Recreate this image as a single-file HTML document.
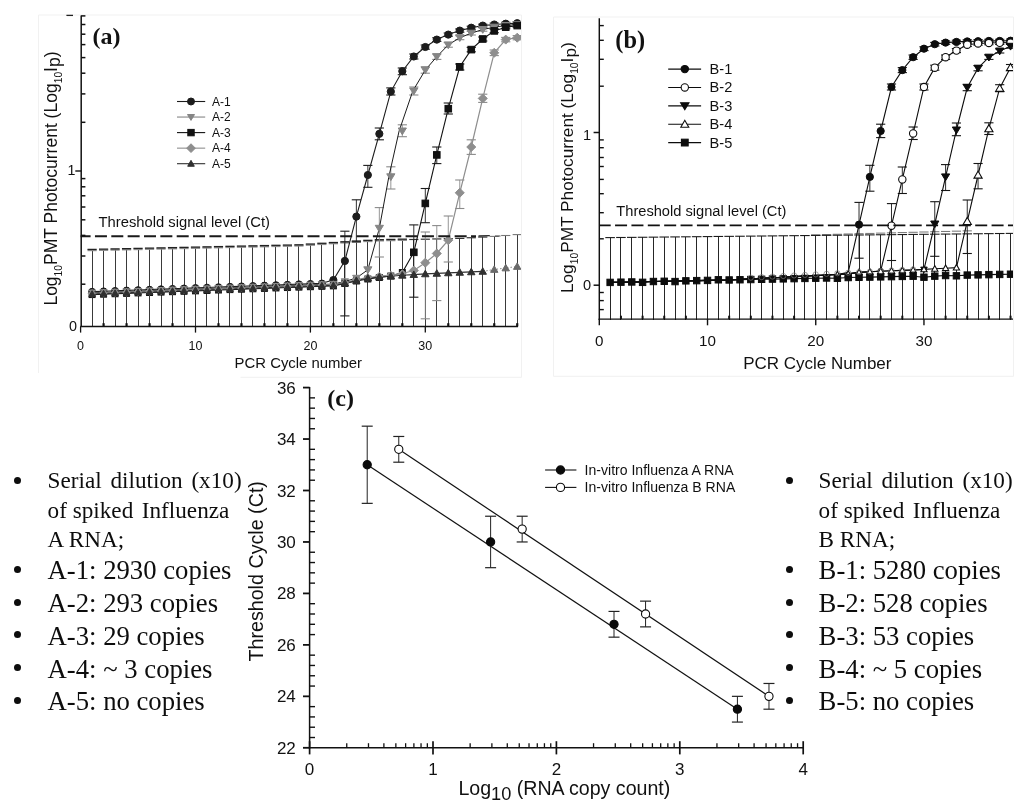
<!DOCTYPE html>
<html lang="en">
<head>
<meta charset="utf-8">
<title>Influenza A/B RNA serial dilution PCR curves</title>
<style>
html,body{margin:0;padding:0;background:#fff;}
body{width:1024px;height:808px;position:relative;overflow:hidden;}
svg{position:absolute;left:0;top:0;display:block;}
.col{position:absolute;top:0;width:0;height:0;font-family:"Liberation Serif","Times New Roman",serif;color:#0d0d0d;}
.col div{position:absolute;white-space:nowrap;}
.s{left:30.4px;font-size:23.2px;line-height:36px;height:36px;}
.l{left:30.4px;font-size:26.7px;line-height:40px;height:40px;}
.b{left:-3.5px;width:7px;height:7px;border-radius:50%;background:#0d0d0d;}
</style>
</head>
<body>
<svg width="1024" height="808" viewBox="0 0 1024 808">
<rect x="0" y="0" width="1024" height="808" fill="#ffffff"/>
<path d="M38.5 373 V15 H521.5 V377.3 H240.5" fill="none" stroke="#f1f1f1" stroke-width="1"/>
<path d="M553.5 376.3 V17 H1013.5 V376.3 Z" fill="none" stroke="#f1f1f1" stroke-width="1"/>
<g id="panelA">
<clipPath id="clipA"><rect x="80" y="14" width="441" height="313"/></clipPath>
<g clip-path="url(#clipA)">
<line x1="92.09" y1="250" x2="92.09" y2="328.4" stroke="#3a3a3a" stroke-width="1" shape-rendering="crispEdges"/>
<line x1="103.58" y1="249.74" x2="103.58" y2="328.4" stroke="#3a3a3a" stroke-width="1" shape-rendering="crispEdges"/>
<line x1="115.07" y1="249.49" x2="115.07" y2="328.4" stroke="#3a3a3a" stroke-width="1" shape-rendering="crispEdges"/>
<line x1="126.56" y1="249.23" x2="126.56" y2="328.4" stroke="#3a3a3a" stroke-width="1" shape-rendering="crispEdges"/>
<line x1="138.05" y1="248.98" x2="138.05" y2="328.4" stroke="#3a3a3a" stroke-width="1" shape-rendering="crispEdges"/>
<line x1="149.54" y1="248.72" x2="149.54" y2="328.4" stroke="#3a3a3a" stroke-width="1" shape-rendering="crispEdges"/>
<line x1="161.03" y1="248.47" x2="161.03" y2="328.4" stroke="#3a3a3a" stroke-width="1" shape-rendering="crispEdges"/>
<line x1="172.52" y1="248.21" x2="172.52" y2="328.4" stroke="#3a3a3a" stroke-width="1" shape-rendering="crispEdges"/>
<line x1="184.01" y1="247.96" x2="184.01" y2="328.4" stroke="#3a3a3a" stroke-width="1" shape-rendering="crispEdges"/>
<line x1="195.5" y1="247.7" x2="195.5" y2="328.4" stroke="#3a3a3a" stroke-width="1" shape-rendering="crispEdges"/>
<line x1="206.99" y1="247.44" x2="206.99" y2="328.4" stroke="#3a3a3a" stroke-width="1" shape-rendering="crispEdges"/>
<line x1="218.48" y1="247.19" x2="218.48" y2="328.4" stroke="#3a3a3a" stroke-width="1" shape-rendering="crispEdges"/>
<line x1="229.97" y1="246.93" x2="229.97" y2="328.4" stroke="#3a3a3a" stroke-width="1" shape-rendering="crispEdges"/>
<line x1="241.46" y1="246.68" x2="241.46" y2="328.4" stroke="#3a3a3a" stroke-width="1" shape-rendering="crispEdges"/>
<line x1="252.95" y1="246.42" x2="252.95" y2="328.4" stroke="#3a3a3a" stroke-width="1" shape-rendering="crispEdges"/>
<line x1="264.44" y1="246.17" x2="264.44" y2="328.4" stroke="#3a3a3a" stroke-width="1" shape-rendering="crispEdges"/>
<line x1="275.93" y1="245.91" x2="275.93" y2="328.4" stroke="#3a3a3a" stroke-width="1" shape-rendering="crispEdges"/>
<line x1="287.42" y1="245.66" x2="287.42" y2="328.4" stroke="#3a3a3a" stroke-width="1" shape-rendering="crispEdges"/>
<line x1="298.91" y1="245.4" x2="298.91" y2="328.4" stroke="#3a3a3a" stroke-width="1" shape-rendering="crispEdges"/>
<line x1="310.4" y1="244.64" x2="310.4" y2="328.4" stroke="#3a3a3a" stroke-width="1" shape-rendering="crispEdges"/>
<line x1="321.89" y1="243.88" x2="321.89" y2="328.4" stroke="#3a3a3a" stroke-width="1" shape-rendering="crispEdges"/>
<line x1="333.38" y1="243.12" x2="333.38" y2="328.4" stroke="#3a3a3a" stroke-width="1" shape-rendering="crispEdges"/>
<line x1="344.87" y1="242.36" x2="344.87" y2="328.4" stroke="#3a3a3a" stroke-width="1" shape-rendering="crispEdges"/>
<line x1="356.36" y1="241.6" x2="356.36" y2="328.4" stroke="#3a3a3a" stroke-width="1" shape-rendering="crispEdges"/>
<line x1="367.85" y1="240.95" x2="367.85" y2="328.4" stroke="#3a3a3a" stroke-width="1" shape-rendering="crispEdges"/>
<line x1="379.34" y1="240.3" x2="379.34" y2="328.4" stroke="#3a3a3a" stroke-width="1" shape-rendering="crispEdges"/>
<line x1="390.83" y1="240.03" x2="390.83" y2="328.4" stroke="#3a3a3a" stroke-width="1" shape-rendering="crispEdges"/>
<line x1="402.32" y1="239.76" x2="402.32" y2="328.4" stroke="#3a3a3a" stroke-width="1" shape-rendering="crispEdges"/>
<line x1="413.81" y1="239.49" x2="413.81" y2="328.4" stroke="#3a3a3a" stroke-width="1" shape-rendering="crispEdges"/>
<line x1="425.3" y1="239.21" x2="425.3" y2="328.4" stroke="#3a3a3a" stroke-width="1" shape-rendering="crispEdges"/>
<line x1="436.79" y1="238.94" x2="436.79" y2="328.4" stroke="#3a3a3a" stroke-width="1" shape-rendering="crispEdges"/>
<line x1="448.28" y1="238.67" x2="448.28" y2="328.4" stroke="#3a3a3a" stroke-width="1" shape-rendering="crispEdges"/>
<line x1="459.77" y1="238.4" x2="459.77" y2="328.4" stroke="#3a3a3a" stroke-width="1" shape-rendering="crispEdges"/>
<line x1="471.26" y1="237.73" x2="471.26" y2="328.4" stroke="#3a3a3a" stroke-width="1" shape-rendering="crispEdges"/>
<line x1="482.75" y1="237.07" x2="482.75" y2="328.4" stroke="#3a3a3a" stroke-width="1" shape-rendering="crispEdges"/>
<line x1="494.24" y1="236.4" x2="494.24" y2="328.4" stroke="#3a3a3a" stroke-width="1" shape-rendering="crispEdges"/>
<line x1="505.73" y1="235.5" x2="505.73" y2="328.4" stroke="#3a3a3a" stroke-width="1" shape-rendering="crispEdges"/>
<line x1="517.22" y1="234.6" x2="517.22" y2="328.4" stroke="#3a3a3a" stroke-width="1" shape-rendering="crispEdges"/>
<line x1="87.49" y1="250.4" x2="96.69" y2="250.4" stroke="#8a8a8a" stroke-width="1.6" />
<line x1="87.49" y1="249.4" x2="96.69" y2="249.4" stroke="#222" stroke-width="1.3" />
<line x1="98.98" y1="250.14" x2="108.18" y2="250.14" stroke="#8a8a8a" stroke-width="1.6" />
<line x1="98.98" y1="249.14" x2="108.18" y2="249.14" stroke="#222" stroke-width="1.3" />
<line x1="110.47" y1="249.89" x2="119.67" y2="249.89" stroke="#8a8a8a" stroke-width="1.6" />
<line x1="110.47" y1="248.89" x2="119.67" y2="248.89" stroke="#222" stroke-width="1.3" />
<line x1="121.96" y1="249.63" x2="131.16" y2="249.63" stroke="#8a8a8a" stroke-width="1.6" />
<line x1="121.96" y1="248.63" x2="131.16" y2="248.63" stroke="#222" stroke-width="1.3" />
<line x1="133.45" y1="249.38" x2="142.65" y2="249.38" stroke="#8a8a8a" stroke-width="1.6" />
<line x1="133.45" y1="248.38" x2="142.65" y2="248.38" stroke="#222" stroke-width="1.3" />
<line x1="144.94" y1="249.12" x2="154.14" y2="249.12" stroke="#8a8a8a" stroke-width="1.6" />
<line x1="144.94" y1="248.12" x2="154.14" y2="248.12" stroke="#222" stroke-width="1.3" />
<line x1="156.43" y1="248.87" x2="165.63" y2="248.87" stroke="#8a8a8a" stroke-width="1.6" />
<line x1="156.43" y1="247.87" x2="165.63" y2="247.87" stroke="#222" stroke-width="1.3" />
<line x1="167.92" y1="248.61" x2="177.12" y2="248.61" stroke="#8a8a8a" stroke-width="1.6" />
<line x1="167.92" y1="247.61" x2="177.12" y2="247.61" stroke="#222" stroke-width="1.3" />
<line x1="179.41" y1="248.36" x2="188.61" y2="248.36" stroke="#8a8a8a" stroke-width="1.6" />
<line x1="179.41" y1="247.36" x2="188.61" y2="247.36" stroke="#222" stroke-width="1.3" />
<line x1="190.9" y1="248.1" x2="200.1" y2="248.1" stroke="#8a8a8a" stroke-width="1.6" />
<line x1="190.9" y1="247.1" x2="200.1" y2="247.1" stroke="#222" stroke-width="1.3" />
<line x1="202.39" y1="247.84" x2="211.59" y2="247.84" stroke="#8a8a8a" stroke-width="1.6" />
<line x1="202.39" y1="246.84" x2="211.59" y2="246.84" stroke="#222" stroke-width="1.3" />
<line x1="213.88" y1="247.59" x2="223.08" y2="247.59" stroke="#8a8a8a" stroke-width="1.6" />
<line x1="213.88" y1="246.59" x2="223.08" y2="246.59" stroke="#222" stroke-width="1.3" />
<line x1="225.37" y1="247.33" x2="234.57" y2="247.33" stroke="#8a8a8a" stroke-width="1.6" />
<line x1="225.37" y1="246.33" x2="234.57" y2="246.33" stroke="#222" stroke-width="1.3" />
<line x1="236.86" y1="247.08" x2="246.06" y2="247.08" stroke="#8a8a8a" stroke-width="1.6" />
<line x1="236.86" y1="246.08" x2="246.06" y2="246.08" stroke="#222" stroke-width="1.3" />
<line x1="248.35" y1="246.82" x2="257.55" y2="246.82" stroke="#8a8a8a" stroke-width="1.6" />
<line x1="248.35" y1="245.82" x2="257.55" y2="245.82" stroke="#222" stroke-width="1.3" />
<line x1="259.84" y1="246.57" x2="269.04" y2="246.57" stroke="#8a8a8a" stroke-width="1.6" />
<line x1="259.84" y1="245.57" x2="269.04" y2="245.57" stroke="#222" stroke-width="1.3" />
<line x1="271.33" y1="246.31" x2="280.53" y2="246.31" stroke="#8a8a8a" stroke-width="1.6" />
<line x1="271.33" y1="245.31" x2="280.53" y2="245.31" stroke="#222" stroke-width="1.3" />
<line x1="282.82" y1="246.06" x2="292.02" y2="246.06" stroke="#8a8a8a" stroke-width="1.6" />
<line x1="282.82" y1="245.06" x2="292.02" y2="245.06" stroke="#222" stroke-width="1.3" />
<line x1="294.31" y1="245.8" x2="303.51" y2="245.8" stroke="#8a8a8a" stroke-width="1.6" />
<line x1="294.31" y1="244.8" x2="303.51" y2="244.8" stroke="#222" stroke-width="1.3" />
<line x1="305.8" y1="245.04" x2="315" y2="245.04" stroke="#8a8a8a" stroke-width="1.6" />
<line x1="305.8" y1="244.04" x2="315" y2="244.04" stroke="#222" stroke-width="1.3" />
<line x1="317.29" y1="244.28" x2="326.49" y2="244.28" stroke="#8a8a8a" stroke-width="1.6" />
<line x1="317.29" y1="243.28" x2="326.49" y2="243.28" stroke="#222" stroke-width="1.3" />
<line x1="328.78" y1="243.52" x2="337.98" y2="243.52" stroke="#8a8a8a" stroke-width="1.6" />
<line x1="328.78" y1="242.52" x2="337.98" y2="242.52" stroke="#222" stroke-width="1.3" />
<line x1="340.27" y1="242.76" x2="349.47" y2="242.76" stroke="#8a8a8a" stroke-width="1.6" />
<line x1="340.27" y1="241.76" x2="349.47" y2="241.76" stroke="#222" stroke-width="1.3" />
<line x1="351.76" y1="242" x2="360.96" y2="242" stroke="#8a8a8a" stroke-width="1.6" />
<line x1="351.76" y1="241" x2="360.96" y2="241" stroke="#222" stroke-width="1.3" />
<line x1="363.25" y1="241.35" x2="372.45" y2="241.35" stroke="#8a8a8a" stroke-width="1.6" />
<line x1="363.25" y1="240.35" x2="372.45" y2="240.35" stroke="#222" stroke-width="1.3" />
<line x1="374.74" y1="240.7" x2="383.94" y2="240.7" stroke="#8a8a8a" stroke-width="1.6" />
<line x1="374.74" y1="239.7" x2="383.94" y2="239.7" stroke="#222" stroke-width="1.3" />
<line x1="386.23" y1="240.43" x2="395.43" y2="240.43" stroke="#8a8a8a" stroke-width="1.6" />
<line x1="386.23" y1="239.43" x2="395.43" y2="239.43" stroke="#222" stroke-width="1.3" />
<line x1="397.72" y1="240.16" x2="406.92" y2="240.16" stroke="#8a8a8a" stroke-width="1.6" />
<line x1="397.72" y1="239.16" x2="406.92" y2="239.16" stroke="#222" stroke-width="1.3" />
<line x1="409.21" y1="239.49" x2="418.41" y2="239.49" stroke="#333" stroke-width="1.2" />
<line x1="420.7" y1="239.21" x2="429.9" y2="239.21" stroke="#333" stroke-width="1.2" />
<line x1="432.19" y1="238.94" x2="441.39" y2="238.94" stroke="#333" stroke-width="1.2" />
<line x1="443.68" y1="238.67" x2="452.88" y2="238.67" stroke="#333" stroke-width="1.2" />
<line x1="455.17" y1="238.4" x2="464.37" y2="238.4" stroke="#333" stroke-width="1.2" />
<line x1="466.66" y1="237.73" x2="475.86" y2="237.73" stroke="#333" stroke-width="1.2" />
<line x1="478.15" y1="237.07" x2="487.35" y2="237.07" stroke="#333" stroke-width="1.2" />
<line x1="489.64" y1="236.4" x2="498.84" y2="236.4" stroke="#777" stroke-width="1.1" />
<line x1="501.13" y1="235.5" x2="510.33" y2="235.5" stroke="#777" stroke-width="1.1" />
<line x1="512.62" y1="234.6" x2="521.82" y2="234.6" stroke="#777" stroke-width="1.1" />
<line x1="379.34" y1="207.6" x2="379.34" y2="257" stroke="#8a8a8a" stroke-width="0.9" />
<line x1="374.74" y1="207.6" x2="383.94" y2="207.6" stroke="#8a8a8a" stroke-width="1.1" />
<line x1="374.74" y1="257" x2="383.94" y2="257" stroke="#8a8a8a" stroke-width="1.1" />
<line x1="390.83" y1="166.8" x2="390.83" y2="189" stroke="#8a8a8a" stroke-width="0.9" />
<line x1="386.23" y1="166.8" x2="395.43" y2="166.8" stroke="#8a8a8a" stroke-width="1.1" />
<line x1="386.23" y1="189" x2="395.43" y2="189" stroke="#8a8a8a" stroke-width="1.1" />
<line x1="402.32" y1="124.8" x2="402.32" y2="136.7" stroke="#8a8a8a" stroke-width="0.9" />
<line x1="397.72" y1="124.8" x2="406.92" y2="124.8" stroke="#8a8a8a" stroke-width="1.1" />
<line x1="397.72" y1="136.7" x2="406.92" y2="136.7" stroke="#8a8a8a" stroke-width="1.1" />
<line x1="413.81" y1="87" x2="413.81" y2="95" stroke="#8a8a8a" stroke-width="0.9" />
<line x1="409.21" y1="87" x2="418.41" y2="87" stroke="#8a8a8a" stroke-width="1.1" />
<line x1="409.21" y1="95" x2="418.41" y2="95" stroke="#8a8a8a" stroke-width="1.1" />
<line x1="425.3" y1="66.8" x2="425.3" y2="73.2" stroke="#8a8a8a" stroke-width="0.9" />
<line x1="420.7" y1="66.8" x2="429.9" y2="66.8" stroke="#8a8a8a" stroke-width="1.1" />
<line x1="420.7" y1="73.2" x2="429.9" y2="73.2" stroke="#8a8a8a" stroke-width="1.1" />
<line x1="436.79" y1="54" x2="436.79" y2="59.4" stroke="#8a8a8a" stroke-width="0.9" />
<line x1="432.19" y1="54" x2="441.39" y2="54" stroke="#8a8a8a" stroke-width="1.1" />
<line x1="432.19" y1="59.4" x2="441.39" y2="59.4" stroke="#8a8a8a" stroke-width="1.1" />
<line x1="448.28" y1="42.6" x2="448.28" y2="47.2" stroke="#8a8a8a" stroke-width="0.9" />
<line x1="443.68" y1="42.6" x2="452.88" y2="42.6" stroke="#8a8a8a" stroke-width="1.1" />
<line x1="443.68" y1="47.2" x2="452.88" y2="47.2" stroke="#8a8a8a" stroke-width="1.1" />
<line x1="459.77" y1="35.7" x2="459.77" y2="39.7" stroke="#8a8a8a" stroke-width="0.9" />
<line x1="455.17" y1="35.7" x2="464.37" y2="35.7" stroke="#8a8a8a" stroke-width="1.1" />
<line x1="455.17" y1="39.7" x2="464.37" y2="39.7" stroke="#8a8a8a" stroke-width="1.1" />
<line x1="471.26" y1="31.4" x2="471.26" y2="35" stroke="#8a8a8a" stroke-width="0.9" />
<line x1="466.66" y1="31.4" x2="475.86" y2="31.4" stroke="#8a8a8a" stroke-width="1.1" />
<line x1="466.66" y1="35" x2="475.86" y2="35" stroke="#8a8a8a" stroke-width="1.1" />
<line x1="482.75" y1="27.8" x2="482.75" y2="31.2" stroke="#8a8a8a" stroke-width="0.9" />
<line x1="478.15" y1="27.8" x2="487.35" y2="27.8" stroke="#8a8a8a" stroke-width="1.1" />
<line x1="478.15" y1="31.2" x2="487.35" y2="31.2" stroke="#8a8a8a" stroke-width="1.1" />
<line x1="494.24" y1="25.6" x2="494.24" y2="28.8" stroke="#8a8a8a" stroke-width="0.9" />
<line x1="489.64" y1="25.6" x2="498.84" y2="25.6" stroke="#8a8a8a" stroke-width="1.1" />
<line x1="489.64" y1="28.8" x2="498.84" y2="28.8" stroke="#8a8a8a" stroke-width="1.1" />
<line x1="505.73" y1="24" x2="505.73" y2="27" stroke="#8a8a8a" stroke-width="0.9" />
<line x1="501.13" y1="24" x2="510.33" y2="24" stroke="#8a8a8a" stroke-width="1.1" />
<line x1="501.13" y1="27" x2="510.33" y2="27" stroke="#8a8a8a" stroke-width="1.1" />
<line x1="517.22" y1="23" x2="517.22" y2="26" stroke="#8a8a8a" stroke-width="0.9" />
<line x1="512.62" y1="23" x2="521.82" y2="23" stroke="#8a8a8a" stroke-width="1.1" />
<line x1="512.62" y1="26" x2="521.82" y2="26" stroke="#8a8a8a" stroke-width="1.1" />
<line x1="425.3" y1="232" x2="425.3" y2="318.8" stroke="#8a8a8a" stroke-width="0.9" />
<line x1="420.7" y1="232" x2="429.9" y2="232" stroke="#8a8a8a" stroke-width="1.1" />
<line x1="420.7" y1="318.8" x2="429.9" y2="318.8" stroke="#8a8a8a" stroke-width="1.1" />
<line x1="436.79" y1="225.6" x2="436.79" y2="300.6" stroke="#8a8a8a" stroke-width="0.9" />
<line x1="432.19" y1="225.6" x2="441.39" y2="225.6" stroke="#8a8a8a" stroke-width="1.1" />
<line x1="432.19" y1="300.6" x2="441.39" y2="300.6" stroke="#8a8a8a" stroke-width="1.1" />
<line x1="448.28" y1="216" x2="448.28" y2="262" stroke="#8a8a8a" stroke-width="0.9" />
<line x1="443.68" y1="216" x2="452.88" y2="216" stroke="#8a8a8a" stroke-width="1.1" />
<line x1="443.68" y1="262" x2="452.88" y2="262" stroke="#8a8a8a" stroke-width="1.1" />
<line x1="459.77" y1="180" x2="459.77" y2="208.5" stroke="#8a8a8a" stroke-width="0.9" />
<line x1="455.17" y1="180" x2="464.37" y2="180" stroke="#8a8a8a" stroke-width="1.1" />
<line x1="455.17" y1="208.5" x2="464.37" y2="208.5" stroke="#8a8a8a" stroke-width="1.1" />
<line x1="471.26" y1="139.8" x2="471.26" y2="154.4" stroke="#8a8a8a" stroke-width="0.9" />
<line x1="466.66" y1="139.8" x2="475.86" y2="139.8" stroke="#8a8a8a" stroke-width="1.1" />
<line x1="466.66" y1="154.4" x2="475.86" y2="154.4" stroke="#8a8a8a" stroke-width="1.1" />
<line x1="482.75" y1="94.2" x2="482.75" y2="102.4" stroke="#8a8a8a" stroke-width="0.9" />
<line x1="478.15" y1="94.2" x2="487.35" y2="94.2" stroke="#8a8a8a" stroke-width="1.1" />
<line x1="478.15" y1="102.4" x2="487.35" y2="102.4" stroke="#8a8a8a" stroke-width="1.1" />
<line x1="494.24" y1="50" x2="494.24" y2="55.6" stroke="#8a8a8a" stroke-width="0.9" />
<line x1="489.64" y1="50" x2="498.84" y2="50" stroke="#8a8a8a" stroke-width="1.1" />
<line x1="489.64" y1="55.6" x2="498.84" y2="55.6" stroke="#8a8a8a" stroke-width="1.1" />
<line x1="505.73" y1="37.4" x2="505.73" y2="41.8" stroke="#8a8a8a" stroke-width="0.9" />
<line x1="501.13" y1="37.4" x2="510.33" y2="37.4" stroke="#8a8a8a" stroke-width="1.1" />
<line x1="501.13" y1="41.8" x2="510.33" y2="41.8" stroke="#8a8a8a" stroke-width="1.1" />
<line x1="517.22" y1="35.6" x2="517.22" y2="39.8" stroke="#8a8a8a" stroke-width="0.9" />
<line x1="512.62" y1="35.6" x2="521.82" y2="35.6" stroke="#8a8a8a" stroke-width="1.1" />
<line x1="512.62" y1="39.8" x2="521.82" y2="39.8" stroke="#8a8a8a" stroke-width="1.1" />
<line x1="344.87" y1="231.2" x2="344.87" y2="315.9" stroke="#1c1c1c" stroke-width="0.9" />
<line x1="340.27" y1="231.2" x2="349.47" y2="231.2" stroke="#1c1c1c" stroke-width="1.1" />
<line x1="340.27" y1="315.9" x2="349.47" y2="315.9" stroke="#1c1c1c" stroke-width="1.1" />
<line x1="356.36" y1="199.8" x2="356.36" y2="241.8" stroke="#1c1c1c" stroke-width="0.9" />
<line x1="351.76" y1="199.8" x2="360.96" y2="199.8" stroke="#1c1c1c" stroke-width="1.1" />
<line x1="351.76" y1="241.8" x2="360.96" y2="241.8" stroke="#1c1c1c" stroke-width="1.1" />
<line x1="367.85" y1="165.4" x2="367.85" y2="187.3" stroke="#1c1c1c" stroke-width="0.9" />
<line x1="363.25" y1="165.4" x2="372.45" y2="165.4" stroke="#1c1c1c" stroke-width="1.1" />
<line x1="363.25" y1="187.3" x2="372.45" y2="187.3" stroke="#1c1c1c" stroke-width="1.1" />
<line x1="379.34" y1="128" x2="379.34" y2="139.8" stroke="#1c1c1c" stroke-width="0.9" />
<line x1="374.74" y1="128" x2="383.94" y2="128" stroke="#1c1c1c" stroke-width="1.1" />
<line x1="374.74" y1="139.8" x2="383.94" y2="139.8" stroke="#1c1c1c" stroke-width="1.1" />
<line x1="390.83" y1="87.9" x2="390.83" y2="95" stroke="#1c1c1c" stroke-width="0.9" />
<line x1="386.23" y1="87.9" x2="395.43" y2="87.9" stroke="#1c1c1c" stroke-width="1.1" />
<line x1="386.23" y1="95" x2="395.43" y2="95" stroke="#1c1c1c" stroke-width="1.1" />
<line x1="402.32" y1="68" x2="402.32" y2="74.7" stroke="#1c1c1c" stroke-width="0.9" />
<line x1="397.72" y1="68" x2="406.92" y2="68" stroke="#1c1c1c" stroke-width="1.1" />
<line x1="397.72" y1="74.7" x2="406.92" y2="74.7" stroke="#1c1c1c" stroke-width="1.1" />
<line x1="413.81" y1="54" x2="413.81" y2="59" stroke="#1c1c1c" stroke-width="0.9" />
<line x1="409.21" y1="54" x2="418.41" y2="54" stroke="#1c1c1c" stroke-width="1.1" />
<line x1="409.21" y1="59" x2="418.41" y2="59" stroke="#1c1c1c" stroke-width="1.1" />
<line x1="425.3" y1="45" x2="425.3" y2="49.2" stroke="#1c1c1c" stroke-width="0.9" />
<line x1="420.7" y1="45" x2="429.9" y2="45" stroke="#1c1c1c" stroke-width="1.1" />
<line x1="420.7" y1="49.2" x2="429.9" y2="49.2" stroke="#1c1c1c" stroke-width="1.1" />
<line x1="436.79" y1="37.8" x2="436.79" y2="41.4" stroke="#1c1c1c" stroke-width="0.9" />
<line x1="432.19" y1="37.8" x2="441.39" y2="37.8" stroke="#1c1c1c" stroke-width="1.1" />
<line x1="432.19" y1="41.4" x2="441.39" y2="41.4" stroke="#1c1c1c" stroke-width="1.1" />
<line x1="448.28" y1="33" x2="448.28" y2="36.2" stroke="#1c1c1c" stroke-width="0.9" />
<line x1="443.68" y1="33" x2="452.88" y2="33" stroke="#1c1c1c" stroke-width="1.1" />
<line x1="443.68" y1="36.2" x2="452.88" y2="36.2" stroke="#1c1c1c" stroke-width="1.1" />
<line x1="459.77" y1="29" x2="459.77" y2="32.2" stroke="#1c1c1c" stroke-width="0.9" />
<line x1="455.17" y1="29" x2="464.37" y2="29" stroke="#1c1c1c" stroke-width="1.1" />
<line x1="455.17" y1="32.2" x2="464.37" y2="32.2" stroke="#1c1c1c" stroke-width="1.1" />
<line x1="471.26" y1="26.2" x2="471.26" y2="29.2" stroke="#1c1c1c" stroke-width="0.9" />
<line x1="466.66" y1="26.2" x2="475.86" y2="26.2" stroke="#1c1c1c" stroke-width="1.1" />
<line x1="466.66" y1="29.2" x2="475.86" y2="29.2" stroke="#1c1c1c" stroke-width="1.1" />
<line x1="482.75" y1="24.2" x2="482.75" y2="27" stroke="#1c1c1c" stroke-width="0.9" />
<line x1="478.15" y1="24.2" x2="487.35" y2="24.2" stroke="#1c1c1c" stroke-width="1.1" />
<line x1="478.15" y1="27" x2="487.35" y2="27" stroke="#1c1c1c" stroke-width="1.1" />
<line x1="494.24" y1="23.1" x2="494.24" y2="25.9" stroke="#1c1c1c" stroke-width="0.9" />
<line x1="489.64" y1="23.1" x2="498.84" y2="23.1" stroke="#1c1c1c" stroke-width="1.1" />
<line x1="489.64" y1="25.9" x2="498.84" y2="25.9" stroke="#1c1c1c" stroke-width="1.1" />
<line x1="505.73" y1="22.3" x2="505.73" y2="25.1" stroke="#1c1c1c" stroke-width="0.9" />
<line x1="501.13" y1="22.3" x2="510.33" y2="22.3" stroke="#1c1c1c" stroke-width="1.1" />
<line x1="501.13" y1="25.1" x2="510.33" y2="25.1" stroke="#1c1c1c" stroke-width="1.1" />
<line x1="517.22" y1="21.8" x2="517.22" y2="24.6" stroke="#1c1c1c" stroke-width="0.9" />
<line x1="512.62" y1="21.8" x2="521.82" y2="21.8" stroke="#1c1c1c" stroke-width="1.1" />
<line x1="512.62" y1="24.6" x2="521.82" y2="24.6" stroke="#1c1c1c" stroke-width="1.1" />
<line x1="413.81" y1="224.9" x2="413.81" y2="297.2" stroke="#1c1c1c" stroke-width="0.9" />
<line x1="409.21" y1="224.9" x2="418.41" y2="224.9" stroke="#1c1c1c" stroke-width="1.1" />
<line x1="409.21" y1="297.2" x2="418.41" y2="297.2" stroke="#1c1c1c" stroke-width="1.1" />
<line x1="425.3" y1="188.5" x2="425.3" y2="222.7" stroke="#1c1c1c" stroke-width="0.9" />
<line x1="420.7" y1="188.5" x2="429.9" y2="188.5" stroke="#1c1c1c" stroke-width="1.1" />
<line x1="420.7" y1="222.7" x2="429.9" y2="222.7" stroke="#1c1c1c" stroke-width="1.1" />
<line x1="436.79" y1="147" x2="436.79" y2="163.6" stroke="#1c1c1c" stroke-width="0.9" />
<line x1="432.19" y1="147" x2="441.39" y2="147" stroke="#1c1c1c" stroke-width="1.1" />
<line x1="432.19" y1="163.6" x2="441.39" y2="163.6" stroke="#1c1c1c" stroke-width="1.1" />
<line x1="448.28" y1="103" x2="448.28" y2="114" stroke="#1c1c1c" stroke-width="0.9" />
<line x1="443.68" y1="103" x2="452.88" y2="103" stroke="#1c1c1c" stroke-width="1.1" />
<line x1="443.68" y1="114" x2="452.88" y2="114" stroke="#1c1c1c" stroke-width="1.1" />
<line x1="459.77" y1="64" x2="459.77" y2="70" stroke="#1c1c1c" stroke-width="0.9" />
<line x1="455.17" y1="64" x2="464.37" y2="64" stroke="#1c1c1c" stroke-width="1.1" />
<line x1="455.17" y1="70" x2="464.37" y2="70" stroke="#1c1c1c" stroke-width="1.1" />
<line x1="471.26" y1="47.4" x2="471.26" y2="51.8" stroke="#1c1c1c" stroke-width="0.9" />
<line x1="466.66" y1="47.4" x2="475.86" y2="47.4" stroke="#1c1c1c" stroke-width="1.1" />
<line x1="466.66" y1="51.8" x2="475.86" y2="51.8" stroke="#1c1c1c" stroke-width="1.1" />
<line x1="482.75" y1="37" x2="482.75" y2="41" stroke="#1c1c1c" stroke-width="0.9" />
<line x1="478.15" y1="37" x2="487.35" y2="37" stroke="#1c1c1c" stroke-width="1.1" />
<line x1="478.15" y1="41" x2="487.35" y2="41" stroke="#1c1c1c" stroke-width="1.1" />
<line x1="494.24" y1="29.1" x2="494.24" y2="32.7" stroke="#1c1c1c" stroke-width="0.9" />
<line x1="489.64" y1="29.1" x2="498.84" y2="29.1" stroke="#1c1c1c" stroke-width="1.1" />
<line x1="489.64" y1="32.7" x2="498.84" y2="32.7" stroke="#1c1c1c" stroke-width="1.1" />
<line x1="505.73" y1="25.6" x2="505.73" y2="28.8" stroke="#1c1c1c" stroke-width="0.9" />
<line x1="501.13" y1="25.6" x2="510.33" y2="25.6" stroke="#1c1c1c" stroke-width="1.1" />
<line x1="501.13" y1="28.8" x2="510.33" y2="28.8" stroke="#1c1c1c" stroke-width="1.1" />
<line x1="517.22" y1="24" x2="517.22" y2="27.2" stroke="#1c1c1c" stroke-width="0.9" />
<line x1="512.62" y1="24" x2="521.82" y2="24" stroke="#1c1c1c" stroke-width="1.1" />
<line x1="512.62" y1="27.2" x2="521.82" y2="27.2" stroke="#1c1c1c" stroke-width="1.1" />
<polyline points="92.09,291.6 103.58,291.19 115.07,290.77 126.56,290.36 138.05,289.94 149.54,289.53 161.03,289.11 172.52,288.7 184.01,288.29 195.5,287.87 206.99,287.46 218.48,287.04 229.97,286.63 241.46,286.21 252.95,285.8 264.44,285.39 275.93,284.97 287.42,284.56 298.91,284.14 310.4,283.73 321.89,283.31 333.38,280 344.87,260.9 356.36,216.6 367.85,175 379.34,133.8 390.83,91.6 402.32,71.2 413.81,56.5 425.3,47 436.79,39.6 448.28,34.6 459.77,30.6 471.26,27.7 482.75,25.6 494.24,24.5 505.73,23.7 517.22,23.2" fill="none" stroke="#1c1c1c" stroke-width="1.1" />
<polyline points="92.09,292.8 103.58,292.39 115.07,291.97 126.56,291.56 138.05,291.14 149.54,290.73 161.03,290.31 172.52,289.9 184.01,289.49 195.5,289.07 206.99,288.66 218.48,288.24 229.97,287.83 241.46,287.41 252.95,287 264.44,286.59 275.93,286.17 287.42,285.76 298.91,285.34 310.4,284.93 321.89,284.51 333.38,284.1 344.87,281.5 356.36,278 367.85,269.8 379.34,228.3 388.83,176.8 399.12,131 412.81,91 425.3,70 436.79,56.7 448.28,44.9 459.77,37.7 471.26,33.2 482.75,29.5 494.24,27.2 505.73,25.5 517.22,24.5" fill="none" stroke="#1c1c1c" stroke-width="1.0" />
<polyline points="92.09,294.6 103.58,294.19 115.07,293.77 126.56,293.36 138.05,292.94 149.54,292.53 161.03,292.11 172.52,291.7 184.01,291.29 195.5,290.87 206.99,290.46 218.48,290.04 229.97,289.63 241.46,289.21 252.95,288.8 264.44,288.39 275.93,287.97 287.42,287.56 298.91,287.14 310.4,286.73 321.89,286.31 333.38,285.9 344.87,283.5 356.36,281 367.85,279 379.34,277.5 390.83,276 402.32,272.5 413.81,252.3 425.3,203.4 436.79,154.9 448.28,108.7 459.77,66.8 471.26,49.6 482.75,39 494.24,30.9 505.73,27.2 517.22,25.6" fill="none" stroke="#111111" stroke-width="1.1" />
<polyline points="92.09,293.4 103.58,292.99 115.07,292.57 126.56,292.16 138.05,291.74 149.54,291.33 161.03,290.91 172.52,290.5 184.01,290.09 195.5,289.67 206.99,289.26 218.48,288.84 229.97,288.43 241.46,288.01 252.95,287.6 264.44,287.19 275.93,286.77 287.42,286.36 298.91,285.94 310.4,285.53 321.89,285.11 333.38,284.7 344.87,282.5 356.36,279.5 367.85,277.5 379.34,276 390.83,275 402.32,273.5 413.81,270.5 425.3,262.7 436.79,253.5 448.28,240.2 459.77,192.8 471.26,147 482.75,98.4 494.24,52.8 505.73,39.6 517.22,37.7" fill="none" stroke="#8e8e8e" stroke-width="1.2" />
<polyline points="92.09,294 103.58,293.59 115.07,293.17 126.56,292.76 138.05,292.34 149.54,291.93 161.03,291.51 172.52,291.1 184.01,290.69 195.5,290.27 206.99,289.86 218.48,289.44 229.97,289.03 241.46,288.61 252.95,288.2 264.44,287.79 275.93,287.37 287.42,286.96 298.91,286.54 310.4,286.13 321.89,285.71 333.38,285.3 344.87,283.2 356.36,280.5 367.85,278.2 379.34,277 390.83,276.2 402.32,275.3 413.81,274.6 425.3,273.9 436.79,273.4 448.28,272.9 459.77,272.4 471.26,271.9 482.75,271.4" fill="none" stroke="#303030" stroke-width="1.1" />
<polyline points="482.75,271.4 494.24,269.5 505.73,268 517.22,266.5" fill="none" stroke="#888" stroke-width="1" stroke-dasharray="1.5 2"/>
</g>
<clipPath id="clipA2"><rect x="76" y="14" width="445" height="320"/></clipPath>
<g clip-path="url(#clipA2)">
<circle cx="92.09" cy="291.6" r="3.31" fill="#1c1c1c" stroke="#1c1c1c" stroke-width="1"/>
<circle cx="103.58" cy="291.19" r="3.31" fill="#1c1c1c" stroke="#1c1c1c" stroke-width="1"/>
<circle cx="115.07" cy="290.77" r="3.31" fill="#1c1c1c" stroke="#1c1c1c" stroke-width="1"/>
<circle cx="126.56" cy="290.36" r="3.31" fill="#1c1c1c" stroke="#1c1c1c" stroke-width="1"/>
<circle cx="138.05" cy="289.94" r="3.31" fill="#1c1c1c" stroke="#1c1c1c" stroke-width="1"/>
<circle cx="149.54" cy="289.53" r="3.31" fill="#1c1c1c" stroke="#1c1c1c" stroke-width="1"/>
<circle cx="161.03" cy="289.11" r="3.31" fill="#1c1c1c" stroke="#1c1c1c" stroke-width="1"/>
<circle cx="172.52" cy="288.7" r="3.31" fill="#1c1c1c" stroke="#1c1c1c" stroke-width="1"/>
<circle cx="184.01" cy="288.29" r="3.31" fill="#1c1c1c" stroke="#1c1c1c" stroke-width="1"/>
<circle cx="195.5" cy="287.87" r="3.31" fill="#1c1c1c" stroke="#1c1c1c" stroke-width="1"/>
<circle cx="206.99" cy="287.46" r="3.31" fill="#1c1c1c" stroke="#1c1c1c" stroke-width="1"/>
<circle cx="218.48" cy="287.04" r="3.31" fill="#1c1c1c" stroke="#1c1c1c" stroke-width="1"/>
<circle cx="229.97" cy="286.63" r="3.31" fill="#1c1c1c" stroke="#1c1c1c" stroke-width="1"/>
<circle cx="241.46" cy="286.21" r="3.31" fill="#1c1c1c" stroke="#1c1c1c" stroke-width="1"/>
<circle cx="252.95" cy="285.8" r="3.31" fill="#1c1c1c" stroke="#1c1c1c" stroke-width="1"/>
<circle cx="264.44" cy="285.39" r="3.31" fill="#1c1c1c" stroke="#1c1c1c" stroke-width="1"/>
<circle cx="275.93" cy="284.97" r="3.31" fill="#1c1c1c" stroke="#1c1c1c" stroke-width="1"/>
<circle cx="287.42" cy="284.56" r="3.31" fill="#1c1c1c" stroke="#1c1c1c" stroke-width="1"/>
<circle cx="298.91" cy="284.14" r="3.31" fill="#1c1c1c" stroke="#1c1c1c" stroke-width="1"/>
<circle cx="310.4" cy="283.73" r="3.31" fill="#1c1c1c" stroke="#1c1c1c" stroke-width="1"/>
<circle cx="321.89" cy="283.31" r="3.31" fill="#1c1c1c" stroke="#1c1c1c" stroke-width="1"/>
<circle cx="333.38" cy="280" r="3.6" fill="#1c1c1c" stroke="#1c1c1c" stroke-width="1"/>
<circle cx="344.87" cy="260.9" r="3.6" fill="#1c1c1c" stroke="#1c1c1c" stroke-width="1"/>
<circle cx="356.36" cy="216.6" r="3.6" fill="#1c1c1c" stroke="#1c1c1c" stroke-width="1"/>
<circle cx="367.85" cy="175" r="3.6" fill="#1c1c1c" stroke="#1c1c1c" stroke-width="1"/>
<circle cx="379.34" cy="133.8" r="3.6" fill="#1c1c1c" stroke="#1c1c1c" stroke-width="1"/>
<circle cx="390.83" cy="91.6" r="3.6" fill="#1c1c1c" stroke="#1c1c1c" stroke-width="1"/>
<circle cx="402.32" cy="71.2" r="3.6" fill="#1c1c1c" stroke="#1c1c1c" stroke-width="1"/>
<circle cx="413.81" cy="56.5" r="3.6" fill="#1c1c1c" stroke="#1c1c1c" stroke-width="1"/>
<circle cx="425.3" cy="47" r="3.6" fill="#1c1c1c" stroke="#1c1c1c" stroke-width="1"/>
<circle cx="436.79" cy="39.6" r="3.6" fill="#1c1c1c" stroke="#1c1c1c" stroke-width="1"/>
<circle cx="448.28" cy="34.6" r="3.6" fill="#1c1c1c" stroke="#1c1c1c" stroke-width="1"/>
<circle cx="459.77" cy="30.6" r="3.6" fill="#1c1c1c" stroke="#1c1c1c" stroke-width="1"/>
<circle cx="471.26" cy="27.7" r="3.6" fill="#1c1c1c" stroke="#1c1c1c" stroke-width="1"/>
<circle cx="482.75" cy="25.6" r="3.6" fill="#1c1c1c" stroke="#1c1c1c" stroke-width="1"/>
<circle cx="494.24" cy="24.5" r="3.6" fill="#1c1c1c" stroke="#1c1c1c" stroke-width="1"/>
<circle cx="505.73" cy="23.7" r="3.6" fill="#1c1c1c" stroke="#1c1c1c" stroke-width="1"/>
<circle cx="517.22" cy="23.2" r="3.6" fill="#1c1c1c" stroke="#1c1c1c" stroke-width="1"/>
<polygon points="88.4,290.1 95.78,290.1 92.09,296.3" fill="#858585" stroke="#858585" stroke-width="1"/>
<polygon points="99.89,289.69 107.27,289.69 103.58,295.89" fill="#858585" stroke="#858585" stroke-width="1"/>
<polygon points="111.38,289.27 118.76,289.27 115.07,295.47" fill="#858585" stroke="#858585" stroke-width="1"/>
<polygon points="122.87,288.86 130.25,288.86 126.56,295.06" fill="#858585" stroke="#858585" stroke-width="1"/>
<polygon points="134.36,288.44 141.74,288.44 138.05,294.64" fill="#858585" stroke="#858585" stroke-width="1"/>
<polygon points="145.85,288.03 153.23,288.03 149.54,294.23" fill="#858585" stroke="#858585" stroke-width="1"/>
<polygon points="157.34,287.61 164.72,287.61 161.03,293.81" fill="#858585" stroke="#858585" stroke-width="1"/>
<polygon points="168.83,287.2 176.21,287.2 172.52,293.4" fill="#858585" stroke="#858585" stroke-width="1"/>
<polygon points="180.32,286.79 187.7,286.79 184.01,292.99" fill="#858585" stroke="#858585" stroke-width="1"/>
<polygon points="191.81,286.37 199.19,286.37 195.5,292.57" fill="#858585" stroke="#858585" stroke-width="1"/>
<polygon points="203.3,285.96 210.68,285.96 206.99,292.16" fill="#858585" stroke="#858585" stroke-width="1"/>
<polygon points="214.79,285.54 222.17,285.54 218.48,291.74" fill="#858585" stroke="#858585" stroke-width="1"/>
<polygon points="226.28,285.13 233.66,285.13 229.97,291.33" fill="#858585" stroke="#858585" stroke-width="1"/>
<polygon points="237.77,284.71 245.15,284.71 241.46,290.91" fill="#858585" stroke="#858585" stroke-width="1"/>
<polygon points="249.26,284.3 256.64,284.3 252.95,290.5" fill="#858585" stroke="#858585" stroke-width="1"/>
<polygon points="260.75,283.89 268.13,283.89 264.44,290.09" fill="#858585" stroke="#858585" stroke-width="1"/>
<polygon points="272.24,283.47 279.62,283.47 275.93,289.67" fill="#858585" stroke="#858585" stroke-width="1"/>
<polygon points="283.73,283.06 291.11,283.06 287.42,289.26" fill="#858585" stroke="#858585" stroke-width="1"/>
<polygon points="295.22,282.64 302.6,282.64 298.91,288.84" fill="#858585" stroke="#858585" stroke-width="1"/>
<polygon points="306.71,282.23 314.09,282.23 310.4,288.43" fill="#858585" stroke="#858585" stroke-width="1"/>
<polygon points="318.2,281.81 325.58,281.81 321.89,288.01" fill="#858585" stroke="#858585" stroke-width="1"/>
<polygon points="329.69,281.4 337.07,281.4 333.38,287.6" fill="#858585" stroke="#858585" stroke-width="1"/>
<polygon points="341.18,278.8 348.56,278.8 344.87,285" fill="#858585" stroke="#858585" stroke-width="1"/>
<polygon points="352.67,275.3 360.05,275.3 356.36,281.5" fill="#858585" stroke="#858585" stroke-width="1"/>
<polygon points="363.75,266.8 371.95,266.8 367.85,273.6" fill="#858585" stroke="#858585" stroke-width="1"/>
<polygon points="375.24,225.3 383.44,225.3 379.34,232.1" fill="#858585" stroke="#858585" stroke-width="1"/>
<polygon points="386.73,173.8 394.93,173.8 390.83,180.6" fill="#858585" stroke="#858585" stroke-width="1"/>
<polygon points="398.22,128 406.42,128 402.32,134.8" fill="#858585" stroke="#858585" stroke-width="1"/>
<polygon points="409.71,88 417.91,88 413.81,94.8" fill="#858585" stroke="#858585" stroke-width="1"/>
<polygon points="421.2,67 429.4,67 425.3,73.8" fill="#858585" stroke="#858585" stroke-width="1"/>
<polygon points="432.69,53.7 440.89,53.7 436.79,60.5" fill="#858585" stroke="#858585" stroke-width="1"/>
<polygon points="444.18,41.9 452.38,41.9 448.28,48.7" fill="#858585" stroke="#858585" stroke-width="1"/>
<polygon points="455.67,34.7 463.87,34.7 459.77,41.5" fill="#858585" stroke="#858585" stroke-width="1"/>
<polygon points="467.16,30.2 475.36,30.2 471.26,37" fill="#858585" stroke="#858585" stroke-width="1"/>
<polygon points="478.65,26.5 486.85,26.5 482.75,33.3" fill="#858585" stroke="#858585" stroke-width="1"/>
<polygon points="490.14,24.2 498.34,24.2 494.24,31" fill="#858585" stroke="#858585" stroke-width="1"/>
<polygon points="501.63,22.5 509.83,22.5 505.73,29.3" fill="#858585" stroke="#858585" stroke-width="1"/>
<polygon points="513.12,21.5 521.32,21.5 517.22,28.3" fill="#858585" stroke="#858585" stroke-width="1"/>
<rect x="89.12" y="291.63" width="5.94" height="5.94" fill="#111111" stroke="#111111" stroke-width="1"/>
<rect x="100.61" y="291.22" width="5.94" height="5.94" fill="#111111" stroke="#111111" stroke-width="1"/>
<rect x="112.1" y="290.8" width="5.94" height="5.94" fill="#111111" stroke="#111111" stroke-width="1"/>
<rect x="123.59" y="290.39" width="5.94" height="5.94" fill="#111111" stroke="#111111" stroke-width="1"/>
<rect x="135.08" y="289.97" width="5.94" height="5.94" fill="#111111" stroke="#111111" stroke-width="1"/>
<rect x="146.57" y="289.56" width="5.94" height="5.94" fill="#111111" stroke="#111111" stroke-width="1"/>
<rect x="158.06" y="289.14" width="5.94" height="5.94" fill="#111111" stroke="#111111" stroke-width="1"/>
<rect x="169.55" y="288.73" width="5.94" height="5.94" fill="#111111" stroke="#111111" stroke-width="1"/>
<rect x="181.04" y="288.32" width="5.94" height="5.94" fill="#111111" stroke="#111111" stroke-width="1"/>
<rect x="192.53" y="287.9" width="5.94" height="5.94" fill="#111111" stroke="#111111" stroke-width="1"/>
<rect x="204.02" y="287.49" width="5.94" height="5.94" fill="#111111" stroke="#111111" stroke-width="1"/>
<rect x="215.51" y="287.07" width="5.94" height="5.94" fill="#111111" stroke="#111111" stroke-width="1"/>
<rect x="227" y="286.66" width="5.94" height="5.94" fill="#111111" stroke="#111111" stroke-width="1"/>
<rect x="238.49" y="286.24" width="5.94" height="5.94" fill="#111111" stroke="#111111" stroke-width="1"/>
<rect x="249.98" y="285.83" width="5.94" height="5.94" fill="#111111" stroke="#111111" stroke-width="1"/>
<rect x="261.47" y="285.42" width="5.94" height="5.94" fill="#111111" stroke="#111111" stroke-width="1"/>
<rect x="272.96" y="285" width="5.94" height="5.94" fill="#111111" stroke="#111111" stroke-width="1"/>
<rect x="284.45" y="284.59" width="5.94" height="5.94" fill="#111111" stroke="#111111" stroke-width="1"/>
<rect x="295.94" y="284.17" width="5.94" height="5.94" fill="#111111" stroke="#111111" stroke-width="1"/>
<rect x="307.43" y="283.76" width="5.94" height="5.94" fill="#111111" stroke="#111111" stroke-width="1"/>
<rect x="318.92" y="283.34" width="5.94" height="5.94" fill="#111111" stroke="#111111" stroke-width="1"/>
<rect x="330.41" y="282.93" width="5.94" height="5.94" fill="#111111" stroke="#111111" stroke-width="1"/>
<rect x="341.9" y="280.53" width="5.94" height="5.94" fill="#111111" stroke="#111111" stroke-width="1"/>
<rect x="353.39" y="278.03" width="5.94" height="5.94" fill="#111111" stroke="#111111" stroke-width="1"/>
<rect x="364.88" y="276.03" width="5.94" height="5.94" fill="#111111" stroke="#111111" stroke-width="1"/>
<rect x="376.37" y="274.53" width="5.94" height="5.94" fill="#111111" stroke="#111111" stroke-width="1"/>
<rect x="387.86" y="273.03" width="5.94" height="5.94" fill="#111111" stroke="#111111" stroke-width="1"/>
<rect x="399.35" y="269.53" width="5.94" height="5.94" fill="#111111" stroke="#111111" stroke-width="1"/>
<rect x="410.51" y="249" width="6.6" height="6.6" fill="#111111" stroke="#111111" stroke-width="1"/>
<rect x="422" y="200.1" width="6.6" height="6.6" fill="#111111" stroke="#111111" stroke-width="1"/>
<rect x="433.49" y="151.6" width="6.6" height="6.6" fill="#111111" stroke="#111111" stroke-width="1"/>
<rect x="444.98" y="105.4" width="6.6" height="6.6" fill="#111111" stroke="#111111" stroke-width="1"/>
<rect x="456.47" y="63.5" width="6.6" height="6.6" fill="#111111" stroke="#111111" stroke-width="1"/>
<rect x="467.96" y="46.3" width="6.6" height="6.6" fill="#111111" stroke="#111111" stroke-width="1"/>
<rect x="479.45" y="35.7" width="6.6" height="6.6" fill="#111111" stroke="#111111" stroke-width="1"/>
<rect x="490.94" y="27.6" width="6.6" height="6.6" fill="#111111" stroke="#111111" stroke-width="1"/>
<rect x="502.43" y="23.9" width="6.6" height="6.6" fill="#111111" stroke="#111111" stroke-width="1"/>
<rect x="513.92" y="22.3" width="6.6" height="6.6" fill="#111111" stroke="#111111" stroke-width="1"/>
<polygon points="88.26,293.4 92.09,289.57 95.91,293.4 92.09,297.22" fill="#8e8e8e" stroke="#8e8e8e" stroke-width="1"/>
<polygon points="99.75,292.99 103.58,289.16 107.41,292.99 103.58,296.81" fill="#8e8e8e" stroke="#8e8e8e" stroke-width="1"/>
<polygon points="111.24,292.57 115.07,288.75 118.89,292.57 115.07,296.4" fill="#8e8e8e" stroke="#8e8e8e" stroke-width="1"/>
<polygon points="122.73,292.16 126.56,288.33 130.38,292.16 126.56,295.98" fill="#8e8e8e" stroke="#8e8e8e" stroke-width="1"/>
<polygon points="134.23,291.74 138.05,287.92 141.88,291.74 138.05,295.57" fill="#8e8e8e" stroke="#8e8e8e" stroke-width="1"/>
<polygon points="145.72,291.33 149.54,287.5 153.36,291.33 149.54,295.15" fill="#8e8e8e" stroke="#8e8e8e" stroke-width="1"/>
<polygon points="157.21,290.91 161.03,287.09 164.85,290.91 161.03,294.74" fill="#8e8e8e" stroke="#8e8e8e" stroke-width="1"/>
<polygon points="168.69,290.5 172.52,286.68 176.34,290.5 172.52,294.32" fill="#8e8e8e" stroke="#8e8e8e" stroke-width="1"/>
<polygon points="180.19,290.09 184.01,286.26 187.83,290.09 184.01,293.91" fill="#8e8e8e" stroke="#8e8e8e" stroke-width="1"/>
<polygon points="191.68,289.67 195.5,285.85 199.32,289.67 195.5,293.5" fill="#8e8e8e" stroke="#8e8e8e" stroke-width="1"/>
<polygon points="203.17,289.26 206.99,285.43 210.81,289.26 206.99,293.08" fill="#8e8e8e" stroke="#8e8e8e" stroke-width="1"/>
<polygon points="214.66,288.84 218.48,285.02 222.3,288.84 218.48,292.67" fill="#8e8e8e" stroke="#8e8e8e" stroke-width="1"/>
<polygon points="226.15,288.43 229.97,284.6 233.79,288.43 229.97,292.25" fill="#8e8e8e" stroke="#8e8e8e" stroke-width="1"/>
<polygon points="237.64,288.01 241.46,284.19 245.28,288.01 241.46,291.84" fill="#8e8e8e" stroke="#8e8e8e" stroke-width="1"/>
<polygon points="249.12,287.6 252.95,283.77 256.77,287.6 252.95,291.42" fill="#8e8e8e" stroke="#8e8e8e" stroke-width="1"/>
<polygon points="260.62,287.19 264.44,283.36 268.26,287.19 264.44,291.01" fill="#8e8e8e" stroke="#8e8e8e" stroke-width="1"/>
<polygon points="272.11,286.77 275.93,282.95 279.75,286.77 275.93,290.6" fill="#8e8e8e" stroke="#8e8e8e" stroke-width="1"/>
<polygon points="283.59,286.36 287.42,282.53 291.24,286.36 287.42,290.18" fill="#8e8e8e" stroke="#8e8e8e" stroke-width="1"/>
<polygon points="295.08,285.94 298.91,282.12 302.73,285.94 298.91,289.77" fill="#8e8e8e" stroke="#8e8e8e" stroke-width="1"/>
<polygon points="306.57,285.53 310.4,281.7 314.22,285.53 310.4,289.35" fill="#8e8e8e" stroke="#8e8e8e" stroke-width="1"/>
<polygon points="318.06,285.11 321.89,281.29 325.71,285.11 321.89,288.94" fill="#8e8e8e" stroke="#8e8e8e" stroke-width="1"/>
<polygon points="329.56,284.7 333.38,280.88 337.2,284.7 333.38,288.52" fill="#8e8e8e" stroke="#8e8e8e" stroke-width="1"/>
<polygon points="341.05,282.5 344.87,278.68 348.69,282.5 344.87,286.32" fill="#8e8e8e" stroke="#8e8e8e" stroke-width="1"/>
<polygon points="352.54,279.5 356.36,275.68 360.19,279.5 356.36,283.32" fill="#8e8e8e" stroke="#8e8e8e" stroke-width="1"/>
<polygon points="364.03,277.5 367.85,273.68 371.68,277.5 367.85,281.32" fill="#8e8e8e" stroke="#8e8e8e" stroke-width="1"/>
<polygon points="375.52,276 379.34,272.18 383.17,276 379.34,279.82" fill="#8e8e8e" stroke="#8e8e8e" stroke-width="1"/>
<polygon points="387.01,275 390.83,271.18 394.66,275 390.83,278.82" fill="#8e8e8e" stroke="#8e8e8e" stroke-width="1"/>
<polygon points="398.5,273.5 402.32,269.68 406.15,273.5 402.32,277.32" fill="#8e8e8e" stroke="#8e8e8e" stroke-width="1"/>
<polygon points="409.31,270.5 413.81,266 418.31,270.5 413.81,275" fill="#8e8e8e" stroke="#8e8e8e" stroke-width="1"/>
<polygon points="420.8,262.7 425.3,258.2 429.8,262.7 425.3,267.2" fill="#8e8e8e" stroke="#8e8e8e" stroke-width="1"/>
<polygon points="432.29,253.5 436.79,249 441.29,253.5 436.79,258" fill="#8e8e8e" stroke="#8e8e8e" stroke-width="1"/>
<polygon points="443.78,240.2 448.28,235.7 452.78,240.2 448.28,244.7" fill="#8e8e8e" stroke="#8e8e8e" stroke-width="1"/>
<polygon points="455.27,192.8 459.77,188.3 464.27,192.8 459.77,197.3" fill="#8e8e8e" stroke="#8e8e8e" stroke-width="1"/>
<polygon points="466.76,147 471.26,142.5 475.76,147 471.26,151.5" fill="#8e8e8e" stroke="#8e8e8e" stroke-width="1"/>
<polygon points="478.25,98.4 482.75,93.9 487.25,98.4 482.75,102.9" fill="#8e8e8e" stroke="#8e8e8e" stroke-width="1"/>
<polygon points="489.74,52.8 494.24,48.3 498.74,52.8 494.24,57.3" fill="#8e8e8e" stroke="#8e8e8e" stroke-width="1"/>
<polygon points="501.23,39.6 505.73,35.1 510.23,39.6 505.73,44.1" fill="#8e8e8e" stroke="#8e8e8e" stroke-width="1"/>
<polygon points="512.72,37.7 517.22,33.2 521.72,37.7 517.22,42.2" fill="#8e8e8e" stroke="#8e8e8e" stroke-width="1"/>
<polygon points="88.77,296.55 95.4,296.55 92.09,290.65" fill="#303030" stroke="#303030" stroke-width="1"/>
<polygon points="100.27,296.14 106.89,296.14 103.58,290.24" fill="#303030" stroke="#303030" stroke-width="1"/>
<polygon points="111.75,295.72 118.38,295.72 115.07,289.82" fill="#303030" stroke="#303030" stroke-width="1"/>
<polygon points="123.25,295.31 129.88,295.31 126.56,289.41" fill="#303030" stroke="#303030" stroke-width="1"/>
<polygon points="134.74,294.89 141.37,294.89 138.05,288.99" fill="#303030" stroke="#303030" stroke-width="1"/>
<polygon points="146.22,294.48 152.85,294.48 149.54,288.58" fill="#303030" stroke="#303030" stroke-width="1"/>
<polygon points="157.72,294.06 164.34,294.06 161.03,288.16" fill="#303030" stroke="#303030" stroke-width="1"/>
<polygon points="169.2,293.65 175.83,293.65 172.52,287.75" fill="#303030" stroke="#303030" stroke-width="1"/>
<polygon points="180.69,293.24 187.32,293.24 184.01,287.34" fill="#303030" stroke="#303030" stroke-width="1"/>
<polygon points="192.19,292.82 198.81,292.82 195.5,286.92" fill="#303030" stroke="#303030" stroke-width="1"/>
<polygon points="203.68,292.41 210.31,292.41 206.99,286.51" fill="#303030" stroke="#303030" stroke-width="1"/>
<polygon points="215.16,291.99 221.79,291.99 218.48,286.09" fill="#303030" stroke="#303030" stroke-width="1"/>
<polygon points="226.66,291.58 233.28,291.58 229.97,285.68" fill="#303030" stroke="#303030" stroke-width="1"/>
<polygon points="238.15,291.16 244.78,291.16 241.46,285.26" fill="#303030" stroke="#303030" stroke-width="1"/>
<polygon points="249.63,290.75 256.26,290.75 252.95,284.85" fill="#303030" stroke="#303030" stroke-width="1"/>
<polygon points="261.12,290.34 267.75,290.34 264.44,284.44" fill="#303030" stroke="#303030" stroke-width="1"/>
<polygon points="272.62,289.92 279.25,289.92 275.93,284.02" fill="#303030" stroke="#303030" stroke-width="1"/>
<polygon points="284.1,289.51 290.73,289.51 287.42,283.61" fill="#303030" stroke="#303030" stroke-width="1"/>
<polygon points="295.59,289.09 302.22,289.09 298.91,283.19" fill="#303030" stroke="#303030" stroke-width="1"/>
<polygon points="307.08,288.68 313.71,288.68 310.4,282.78" fill="#303030" stroke="#303030" stroke-width="1"/>
<polygon points="318.57,288.26 325.2,288.26 321.89,282.36" fill="#303030" stroke="#303030" stroke-width="1"/>
<polygon points="330.06,287.85 336.69,287.85 333.38,281.95" fill="#303030" stroke="#303030" stroke-width="1"/>
<polygon points="341.17,286.05 348.57,286.05 344.87,279.55" fill="#303030" stroke="#303030" stroke-width="1"/>
<polygon points="352.66,283.35 360.06,283.35 356.36,276.85" fill="#303030" stroke="#303030" stroke-width="1"/>
<polygon points="364.15,281.05 371.56,281.05 367.85,274.55" fill="#303030" stroke="#303030" stroke-width="1"/>
<polygon points="375.64,279.85 383.05,279.85 379.34,273.35" fill="#303030" stroke="#303030" stroke-width="1"/>
<polygon points="387.13,279.05 394.54,279.05 390.83,272.55" fill="#303030" stroke="#303030" stroke-width="1"/>
<polygon points="398.62,278.15 406.03,278.15 402.32,271.65" fill="#303030" stroke="#303030" stroke-width="1"/>
<polygon points="410.1,277.45 417.51,277.45 413.81,270.95" fill="#303030" stroke="#303030" stroke-width="1"/>
<polygon points="421.59,276.75 429,276.75 425.3,270.25" fill="#303030" stroke="#303030" stroke-width="1"/>
<polygon points="433.08,276.25 440.49,276.25 436.79,269.75" fill="#303030" stroke="#303030" stroke-width="1"/>
<polygon points="444.57,275.75 451.98,275.75 448.28,269.25" fill="#303030" stroke="#303030" stroke-width="1"/>
<polygon points="456.06,275.25 463.47,275.25 459.77,268.75" fill="#303030" stroke="#303030" stroke-width="1"/>
<polygon points="467.56,274.75 474.96,274.75 471.26,268.25" fill="#303030" stroke="#303030" stroke-width="1"/>
<polygon points="479.05,274.25 486.45,274.25 482.75,267.75" fill="#303030" stroke="#303030" stroke-width="1"/>
<polygon points="490.54,272.35 497.94,272.35 494.24,265.85" fill="#6a6a6a" stroke="#6a6a6a" stroke-width="1"/>
<polygon points="502.03,270.85 509.44,270.85 505.73,264.35" fill="#6a6a6a" stroke="#6a6a6a" stroke-width="1"/>
<polygon points="513.51,269.35 520.93,269.35 517.22,262.85" fill="#6a6a6a" stroke="#6a6a6a" stroke-width="1"/>
</g>
<line x1="80.6" y1="236.2" x2="476" y2="236.2" stroke="#1a1a1a" stroke-width="1.9" stroke-dasharray="12 4.35" stroke-dashoffset="2"/>
<line x1="478.5" y1="236" x2="489.8" y2="235.6" stroke="#2a2a2a" stroke-width="1.3" />
<line x1="495" y1="236" x2="500.5" y2="236" stroke="#444" stroke-width="1.0" />
<text x="98.6" y="227" font-family='"Liberation Sans", Arial, sans-serif' font-size="14.75" text-anchor="start" font-weight="normal" fill="#111" >Threshold signal level (Ct)</text>
<line x1="81.2" y1="15.6" x2="81.2" y2="327.1" stroke="#111" stroke-width="1.5" />
<line x1="80.5" y1="326.4" x2="518" y2="326.4" stroke="#111" stroke-width="1.5" />
<line x1="81.2" y1="15.9" x2="85.4" y2="15.9" stroke="#111" stroke-width="1.5" />
<line x1="81.2" y1="24.5" x2="85.4" y2="24.5" stroke="#111" stroke-width="1.5" />
<line x1="81.2" y1="34.2" x2="85.4" y2="34.2" stroke="#111" stroke-width="1.5" />
<line x1="81.2" y1="44.6" x2="85.4" y2="44.6" stroke="#111" stroke-width="1.5" />
<line x1="81.2" y1="57.6" x2="85.4" y2="57.6" stroke="#111" stroke-width="1.5" />
<line x1="81.2" y1="73.2" x2="85.4" y2="73.2" stroke="#111" stroke-width="1.5" />
<line x1="81.2" y1="93.9" x2="85.4" y2="93.9" stroke="#111" stroke-width="1.5" />
<line x1="81.2" y1="122.3" x2="85.4" y2="122.3" stroke="#111" stroke-width="1.5" />
<line x1="81.2" y1="178.6" x2="85.4" y2="178.6" stroke="#111" stroke-width="1.5" />
<line x1="81.2" y1="186.8" x2="85.4" y2="186.8" stroke="#111" stroke-width="1.5" />
<line x1="81.2" y1="195.8" x2="85.4" y2="195.8" stroke="#111" stroke-width="1.5" />
<line x1="81.2" y1="207" x2="85.4" y2="207" stroke="#111" stroke-width="1.5" />
<line x1="81.2" y1="219.8" x2="85.4" y2="219.8" stroke="#111" stroke-width="1.5" />
<line x1="81.2" y1="235.4" x2="85.4" y2="235.4" stroke="#111" stroke-width="1.5" />
<line x1="81.2" y1="256" x2="85.4" y2="256" stroke="#111" stroke-width="1.5" />
<line x1="81.2" y1="284.2" x2="85.4" y2="284.2" stroke="#111" stroke-width="1.5" />
<line x1="75.3" y1="171" x2="81.2" y2="171" stroke="#111" stroke-width="1.4" />
<line x1="66.4" y1="15.4" x2="73" y2="15.4" stroke="#222" stroke-width="1.3" />
<text x="75.4" y="174.6" font-family='"Liberation Sans", Arial, sans-serif' font-size="14.2" text-anchor="end" font-weight="normal" fill="#111" >1</text>
<text x="76.9" y="331" font-family='"Liberation Sans", Arial, sans-serif' font-size="14.4" text-anchor="end" font-weight="normal" fill="#111" >0</text>
<line x1="80.6" y1="326.4" x2="80.6" y2="332.6" stroke="#111" stroke-width="1.3" />
<line x1="103.58" y1="323.2" x2="103.58" y2="326.4" stroke="#111" stroke-width="2.2" />
<line x1="126.56" y1="323.2" x2="126.56" y2="326.4" stroke="#111" stroke-width="2.2" />
<line x1="149.54" y1="323.2" x2="149.54" y2="326.4" stroke="#111" stroke-width="2.2" />
<line x1="172.52" y1="323.2" x2="172.52" y2="326.4" stroke="#111" stroke-width="2.2" />
<line x1="195.5" y1="326.4" x2="195.5" y2="332.6" stroke="#111" stroke-width="1.3" />
<line x1="218.48" y1="323.2" x2="218.48" y2="326.4" stroke="#111" stroke-width="2.2" />
<line x1="241.46" y1="323.2" x2="241.46" y2="326.4" stroke="#111" stroke-width="2.2" />
<line x1="264.44" y1="323.2" x2="264.44" y2="326.4" stroke="#111" stroke-width="2.2" />
<line x1="287.42" y1="323.2" x2="287.42" y2="326.4" stroke="#111" stroke-width="2.2" />
<line x1="310.4" y1="326.4" x2="310.4" y2="332.6" stroke="#111" stroke-width="1.3" />
<line x1="333.38" y1="323.2" x2="333.38" y2="326.4" stroke="#111" stroke-width="2.2" />
<line x1="356.36" y1="323.2" x2="356.36" y2="326.4" stroke="#111" stroke-width="2.2" />
<line x1="379.34" y1="323.2" x2="379.34" y2="326.4" stroke="#111" stroke-width="2.2" />
<line x1="402.32" y1="323.2" x2="402.32" y2="326.4" stroke="#111" stroke-width="2.2" />
<line x1="425.3" y1="326.4" x2="425.3" y2="332.6" stroke="#111" stroke-width="1.3" />
<line x1="448.28" y1="323.2" x2="448.28" y2="326.4" stroke="#111" stroke-width="2.2" />
<line x1="471.26" y1="323.2" x2="471.26" y2="326.4" stroke="#111" stroke-width="2.2" />
<line x1="494.24" y1="323.2" x2="494.24" y2="326.4" stroke="#111" stroke-width="2.2" />
<line x1="517.22" y1="323.2" x2="517.22" y2="326.4" stroke="#111" stroke-width="2.2" />
<text x="80.6" y="349.6" font-family='"Liberation Sans", Arial, sans-serif' font-size="12.5" text-anchor="middle" font-weight="normal" fill="#111" >0</text>
<text x="195.5" y="349.6" font-family='"Liberation Sans", Arial, sans-serif' font-size="12.5" text-anchor="middle" font-weight="normal" fill="#111" >10</text>
<text x="310.4" y="349.6" font-family='"Liberation Sans", Arial, sans-serif' font-size="12.5" text-anchor="middle" font-weight="normal" fill="#111" >20</text>
<text x="425.3" y="349.6" font-family='"Liberation Sans", Arial, sans-serif' font-size="12.5" text-anchor="middle" font-weight="normal" fill="#111" >30</text>
<text x="298.3" y="368" font-family='"Liberation Sans", Arial, sans-serif' font-size="14.9" text-anchor="middle" font-weight="normal" fill="#111" >PCR Cycle number</text>
<text transform="translate(56.7,305.6) rotate(-90)" font-family='"Liberation Sans", Arial, sans-serif' font-size="17.5" fill="#111">Log<tspan font-size="10.3" dy="5">10</tspan><tspan dy="-5">PMT Photocurrent (Log</tspan><tspan font-size="10.3" dy="5">10</tspan><tspan dy="-5">I</tspan><tspan dy="3">p</tspan><tspan dy="-3">)</tspan></text>
<text x="92.6" y="43.8" font-family='"Liberation Serif", "Times New Roman", serif' font-size="24" text-anchor="start" font-weight="bold" fill="#111" >(a)</text>
<line x1="177" y1="101.5" x2="205.2" y2="101.5" stroke="#1c1c1c" stroke-width="1.1" />
<circle cx="191" cy="101.5" r="3.49" fill="#1c1c1c" stroke="#1c1c1c" stroke-width="1"/>
<text x="212" y="105.7" font-family='"Liberation Sans", Arial, sans-serif' font-size="12" text-anchor="start" font-weight="normal" fill="#111" >A-1</text>
<line x1="177" y1="117.05" x2="205.2" y2="117.05" stroke="#858585" stroke-width="1.1" />
<polygon points="187.51,114.5 194.49,114.5 191,120.4" fill="#858585" stroke="#858585" stroke-width="1"/>
<text x="212" y="121.25" font-family='"Liberation Sans", Arial, sans-serif' font-size="12" text-anchor="start" font-weight="normal" fill="#111" >A-2</text>
<line x1="177" y1="132.6" x2="205.2" y2="132.6" stroke="#111111" stroke-width="1.1" />
<rect x="187.8" y="129.4" width="6.4" height="6.4" fill="#111111" stroke="#111111" stroke-width="1"/>
<text x="212" y="136.8" font-family='"Liberation Sans", Arial, sans-serif' font-size="12" text-anchor="start" font-weight="normal" fill="#111" >A-3</text>
<line x1="177" y1="148.15" x2="205.2" y2="148.15" stroke="#8e8e8e" stroke-width="1.1" />
<polygon points="186.63,148.15 191,143.78 195.37,148.15 191,152.52" fill="#8e8e8e" stroke="#8e8e8e" stroke-width="1"/>
<text x="212" y="152.35" font-family='"Liberation Sans", Arial, sans-serif' font-size="12" text-anchor="start" font-weight="normal" fill="#111" >A-4</text>
<line x1="177" y1="163.7" x2="205.2" y2="163.7" stroke="#303030" stroke-width="1.1" />
<polygon points="187.69,166.25 194.31,166.25 191,160.35" fill="#303030" stroke="#303030" stroke-width="1"/>
<text x="212" y="167.9" font-family='"Liberation Sans", Arial, sans-serif' font-size="12" text-anchor="start" font-weight="normal" fill="#111" >A-5</text>
</g>
<g id="panelB">
<clipPath id="clipB"><rect x="598" y="17" width="415" height="303"/></clipPath>
<g clip-path="url(#clipB)">
<line x1="610.12" y1="237.6" x2="610.12" y2="321.1" stroke="#262626" stroke-width="1" shape-rendering="crispEdges"/>
<line x1="605.32" y1="237.6" x2="614.92" y2="237.6" stroke="#1a1a1a" stroke-width="1.1" />
<line x1="620.94" y1="237.49" x2="620.94" y2="321.1" stroke="#262626" stroke-width="1" shape-rendering="crispEdges"/>
<line x1="616.14" y1="237.49" x2="625.74" y2="237.49" stroke="#1a1a1a" stroke-width="1.1" />
<line x1="631.77" y1="237.37" x2="631.77" y2="321.1" stroke="#262626" stroke-width="1" shape-rendering="crispEdges"/>
<line x1="626.97" y1="237.37" x2="636.57" y2="237.37" stroke="#1a1a1a" stroke-width="1.1" />
<line x1="642.59" y1="237.26" x2="642.59" y2="321.1" stroke="#262626" stroke-width="1" shape-rendering="crispEdges"/>
<line x1="637.79" y1="237.26" x2="647.39" y2="237.26" stroke="#1a1a1a" stroke-width="1.1" />
<line x1="653.41" y1="237.15" x2="653.41" y2="321.1" stroke="#262626" stroke-width="1" shape-rendering="crispEdges"/>
<line x1="648.61" y1="237.15" x2="658.21" y2="237.15" stroke="#1a1a1a" stroke-width="1.1" />
<line x1="664.23" y1="237.03" x2="664.23" y2="321.1" stroke="#262626" stroke-width="1" shape-rendering="crispEdges"/>
<line x1="659.43" y1="237.03" x2="669.03" y2="237.03" stroke="#1a1a1a" stroke-width="1.1" />
<line x1="675.05" y1="236.92" x2="675.05" y2="321.1" stroke="#262626" stroke-width="1" shape-rendering="crispEdges"/>
<line x1="670.25" y1="236.92" x2="679.85" y2="236.92" stroke="#1a1a1a" stroke-width="1.1" />
<line x1="685.88" y1="236.81" x2="685.88" y2="321.1" stroke="#262626" stroke-width="1" shape-rendering="crispEdges"/>
<line x1="681.08" y1="236.81" x2="690.68" y2="236.81" stroke="#1a1a1a" stroke-width="1.1" />
<line x1="696.7" y1="236.69" x2="696.7" y2="321.1" stroke="#262626" stroke-width="1" shape-rendering="crispEdges"/>
<line x1="691.9" y1="236.69" x2="701.5" y2="236.69" stroke="#1a1a1a" stroke-width="1.1" />
<line x1="707.52" y1="236.58" x2="707.52" y2="321.1" stroke="#262626" stroke-width="1" shape-rendering="crispEdges"/>
<line x1="702.72" y1="236.58" x2="712.32" y2="236.58" stroke="#1a1a1a" stroke-width="1.1" />
<line x1="718.34" y1="236.46" x2="718.34" y2="321.1" stroke="#262626" stroke-width="1" shape-rendering="crispEdges"/>
<line x1="713.54" y1="236.46" x2="723.14" y2="236.46" stroke="#1a1a1a" stroke-width="1.1" />
<line x1="729.16" y1="236.35" x2="729.16" y2="321.1" stroke="#262626" stroke-width="1" shape-rendering="crispEdges"/>
<line x1="724.36" y1="236.35" x2="733.96" y2="236.35" stroke="#1a1a1a" stroke-width="1.1" />
<line x1="739.99" y1="236.24" x2="739.99" y2="321.1" stroke="#262626" stroke-width="1" shape-rendering="crispEdges"/>
<line x1="735.19" y1="236.24" x2="744.79" y2="236.24" stroke="#1a1a1a" stroke-width="1.1" />
<line x1="750.81" y1="236.12" x2="750.81" y2="321.1" stroke="#262626" stroke-width="1" shape-rendering="crispEdges"/>
<line x1="746.01" y1="236.12" x2="755.61" y2="236.12" stroke="#1a1a1a" stroke-width="1.1" />
<line x1="761.63" y1="236.01" x2="761.63" y2="321.1" stroke="#262626" stroke-width="1" shape-rendering="crispEdges"/>
<line x1="756.83" y1="236.01" x2="766.43" y2="236.01" stroke="#1a1a1a" stroke-width="1.1" />
<line x1="772.45" y1="235.9" x2="772.45" y2="321.1" stroke="#262626" stroke-width="1" shape-rendering="crispEdges"/>
<line x1="767.65" y1="235.9" x2="777.25" y2="235.9" stroke="#1a1a1a" stroke-width="1.1" />
<line x1="783.27" y1="235.78" x2="783.27" y2="321.1" stroke="#262626" stroke-width="1" shape-rendering="crispEdges"/>
<line x1="778.47" y1="235.78" x2="788.07" y2="235.78" stroke="#1a1a1a" stroke-width="1.1" />
<line x1="794.1" y1="235.67" x2="794.1" y2="321.1" stroke="#262626" stroke-width="1" shape-rendering="crispEdges"/>
<line x1="789.3" y1="235.67" x2="798.9" y2="235.67" stroke="#1a1a1a" stroke-width="1.1" />
<line x1="804.92" y1="235.56" x2="804.92" y2="321.1" stroke="#262626" stroke-width="1" shape-rendering="crispEdges"/>
<line x1="800.12" y1="235.56" x2="809.72" y2="235.56" stroke="#1a1a1a" stroke-width="1.1" />
<line x1="815.74" y1="235.44" x2="815.74" y2="321.1" stroke="#262626" stroke-width="1" shape-rendering="crispEdges"/>
<line x1="810.94" y1="235.44" x2="820.54" y2="235.44" stroke="#1a1a1a" stroke-width="1.1" />
<line x1="811.14" y1="234.84" x2="820.34" y2="234.84" stroke="#333" stroke-width="0.7" />
<line x1="826.56" y1="235.33" x2="826.56" y2="321.1" stroke="#262626" stroke-width="1" shape-rendering="crispEdges"/>
<line x1="821.76" y1="235.33" x2="831.36" y2="235.33" stroke="#1a1a1a" stroke-width="1.1" />
<line x1="821.96" y1="234.56" x2="831.16" y2="234.56" stroke="#333" stroke-width="0.7" />
<line x1="837.38" y1="235.22" x2="837.38" y2="321.1" stroke="#262626" stroke-width="1" shape-rendering="crispEdges"/>
<line x1="832.58" y1="235.22" x2="842.18" y2="235.22" stroke="#1a1a1a" stroke-width="1.1" />
<line x1="832.78" y1="234.28" x2="841.98" y2="234.28" stroke="#333" stroke-width="0.7" />
<line x1="848.21" y1="235.1" x2="848.21" y2="321.1" stroke="#262626" stroke-width="1" shape-rendering="crispEdges"/>
<line x1="843.41" y1="235.1" x2="853.01" y2="235.1" stroke="#1a1a1a" stroke-width="1.1" />
<line x1="843.61" y1="233.99" x2="852.81" y2="233.99" stroke="#333" stroke-width="0.7" />
<line x1="859.03" y1="234.99" x2="859.03" y2="321.1" stroke="#262626" stroke-width="1" shape-rendering="crispEdges"/>
<line x1="854.23" y1="234.99" x2="863.83" y2="234.99" stroke="#1a1a1a" stroke-width="1.1" />
<line x1="854.43" y1="233.71" x2="863.63" y2="233.71" stroke="#333" stroke-width="0.7" />
<line x1="869.85" y1="234.88" x2="869.85" y2="321.1" stroke="#262626" stroke-width="1" shape-rendering="crispEdges"/>
<line x1="865.05" y1="234.88" x2="874.65" y2="234.88" stroke="#1a1a1a" stroke-width="1.1" />
<line x1="865.25" y1="233.43" x2="874.45" y2="233.43" stroke="#333" stroke-width="0.7" />
<line x1="880.67" y1="234.76" x2="880.67" y2="321.1" stroke="#262626" stroke-width="1" shape-rendering="crispEdges"/>
<line x1="875.87" y1="234.76" x2="885.47" y2="234.76" stroke="#1a1a1a" stroke-width="1.1" />
<line x1="876.07" y1="233.14" x2="885.27" y2="233.14" stroke="#333" stroke-width="0.7" />
<line x1="891.49" y1="234.65" x2="891.49" y2="321.1" stroke="#262626" stroke-width="1" shape-rendering="crispEdges"/>
<line x1="886.69" y1="234.65" x2="896.29" y2="234.65" stroke="#1a1a1a" stroke-width="1.1" />
<line x1="886.89" y1="232.86" x2="896.09" y2="232.86" stroke="#333" stroke-width="0.7" />
<line x1="902.32" y1="234.54" x2="902.32" y2="321.1" stroke="#262626" stroke-width="1" shape-rendering="crispEdges"/>
<line x1="897.52" y1="234.54" x2="907.12" y2="234.54" stroke="#1a1a1a" stroke-width="1.1" />
<line x1="897.72" y1="232.58" x2="906.92" y2="232.58" stroke="#333" stroke-width="0.7" />
<line x1="913.14" y1="234.42" x2="913.14" y2="321.1" stroke="#262626" stroke-width="1" shape-rendering="crispEdges"/>
<line x1="908.34" y1="234.42" x2="917.94" y2="234.42" stroke="#1a1a1a" stroke-width="1.1" />
<line x1="908.54" y1="232.29" x2="917.74" y2="232.29" stroke="#333" stroke-width="0.7" />
<line x1="923.96" y1="234.31" x2="923.96" y2="321.1" stroke="#262626" stroke-width="1" shape-rendering="crispEdges"/>
<line x1="919.16" y1="234.31" x2="928.76" y2="234.31" stroke="#1a1a1a" stroke-width="1.1" />
<line x1="919.36" y1="232.01" x2="928.56" y2="232.01" stroke="#333" stroke-width="0.7" />
<line x1="934.78" y1="234.19" x2="934.78" y2="321.1" stroke="#262626" stroke-width="1" shape-rendering="crispEdges"/>
<line x1="929.98" y1="234.19" x2="939.58" y2="234.19" stroke="#1a1a1a" stroke-width="1.1" />
<line x1="930.18" y1="231.72" x2="939.38" y2="231.72" stroke="#333" stroke-width="0.7" />
<line x1="945.6" y1="234.08" x2="945.6" y2="321.1" stroke="#262626" stroke-width="1" shape-rendering="crispEdges"/>
<line x1="940.8" y1="234.08" x2="950.4" y2="234.08" stroke="#1a1a1a" stroke-width="1.1" />
<line x1="941" y1="231.44" x2="950.2" y2="231.44" stroke="#333" stroke-width="0.7" />
<line x1="956.43" y1="233.97" x2="956.43" y2="321.1" stroke="#262626" stroke-width="1" shape-rendering="crispEdges"/>
<line x1="951.63" y1="233.97" x2="961.23" y2="233.97" stroke="#1a1a1a" stroke-width="1.1" />
<line x1="951.83" y1="231.16" x2="961.03" y2="231.16" stroke="#333" stroke-width="0.7" />
<line x1="967.25" y1="233.85" x2="967.25" y2="321.1" stroke="#262626" stroke-width="1" shape-rendering="crispEdges"/>
<line x1="962.45" y1="233.85" x2="972.05" y2="233.85" stroke="#1a1a1a" stroke-width="1.1" />
<line x1="962.65" y1="230.87" x2="971.85" y2="230.87" stroke="#333" stroke-width="0.7" />
<line x1="978.07" y1="233.74" x2="978.07" y2="321.1" stroke="#262626" stroke-width="1" shape-rendering="crispEdges"/>
<line x1="973.27" y1="233.74" x2="982.87" y2="233.74" stroke="#1a1a1a" stroke-width="1.1" />
<line x1="988.89" y1="233.63" x2="988.89" y2="321.1" stroke="#262626" stroke-width="1" shape-rendering="crispEdges"/>
<line x1="984.09" y1="233.63" x2="993.69" y2="233.63" stroke="#1a1a1a" stroke-width="1.1" />
<line x1="999.71" y1="233.51" x2="999.71" y2="321.1" stroke="#262626" stroke-width="1" shape-rendering="crispEdges"/>
<line x1="994.91" y1="233.51" x2="1004.51" y2="233.51" stroke="#1a1a1a" stroke-width="1.1" />
<line x1="1010.54" y1="233.4" x2="1010.54" y2="321.1" stroke="#262626" stroke-width="1" shape-rendering="crispEdges"/>
<line x1="1005.74" y1="233.4" x2="1015.34" y2="233.4" stroke="#1a1a1a" stroke-width="1.1" />
<line x1="859.03" y1="202.4" x2="859.03" y2="258.2" stroke="#151515" stroke-width="0.9" />
<line x1="854.43" y1="202.4" x2="863.63" y2="202.4" stroke="#151515" stroke-width="1.1" />
<line x1="854.43" y1="258.2" x2="863.63" y2="258.2" stroke="#151515" stroke-width="1.1" />
<line x1="869.85" y1="165.3" x2="869.85" y2="191.2" stroke="#151515" stroke-width="0.9" />
<line x1="865.25" y1="165.3" x2="874.45" y2="165.3" stroke="#151515" stroke-width="1.1" />
<line x1="865.25" y1="191.2" x2="874.45" y2="191.2" stroke="#151515" stroke-width="1.1" />
<line x1="880.67" y1="124.2" x2="880.67" y2="137.6" stroke="#151515" stroke-width="0.9" />
<line x1="876.07" y1="124.2" x2="885.27" y2="124.2" stroke="#151515" stroke-width="1.1" />
<line x1="876.07" y1="137.6" x2="885.27" y2="137.6" stroke="#151515" stroke-width="1.1" />
<line x1="891.49" y1="84" x2="891.49" y2="90" stroke="#151515" stroke-width="0.9" />
<line x1="886.89" y1="84" x2="896.09" y2="84" stroke="#151515" stroke-width="1.1" />
<line x1="886.89" y1="90" x2="896.09" y2="90" stroke="#151515" stroke-width="1.1" />
<line x1="902.32" y1="67.6" x2="902.32" y2="72.6" stroke="#151515" stroke-width="0.9" />
<line x1="897.72" y1="67.6" x2="906.92" y2="67.6" stroke="#151515" stroke-width="1.1" />
<line x1="897.72" y1="72.6" x2="906.92" y2="72.6" stroke="#151515" stroke-width="1.1" />
<line x1="913.14" y1="55" x2="913.14" y2="59.4" stroke="#151515" stroke-width="0.9" />
<line x1="908.54" y1="55" x2="917.74" y2="55" stroke="#151515" stroke-width="1.1" />
<line x1="908.54" y1="59.4" x2="917.74" y2="59.4" stroke="#151515" stroke-width="1.1" />
<line x1="923.96" y1="46.8" x2="923.96" y2="50.6" stroke="#151515" stroke-width="0.9" />
<line x1="919.36" y1="46.8" x2="928.56" y2="46.8" stroke="#151515" stroke-width="1.1" />
<line x1="919.36" y1="50.6" x2="928.56" y2="50.6" stroke="#151515" stroke-width="1.1" />
<line x1="934.78" y1="42.4" x2="934.78" y2="46" stroke="#151515" stroke-width="0.9" />
<line x1="930.18" y1="42.4" x2="939.38" y2="42.4" stroke="#151515" stroke-width="1.1" />
<line x1="930.18" y1="46" x2="939.38" y2="46" stroke="#151515" stroke-width="1.1" />
<line x1="945.6" y1="40.9" x2="945.6" y2="44.3" stroke="#151515" stroke-width="0.9" />
<line x1="941" y1="40.9" x2="950.2" y2="40.9" stroke="#151515" stroke-width="1.1" />
<line x1="941" y1="44.3" x2="950.2" y2="44.3" stroke="#151515" stroke-width="1.1" />
<line x1="956.43" y1="40.2" x2="956.43" y2="43.6" stroke="#151515" stroke-width="0.9" />
<line x1="951.83" y1="40.2" x2="961.03" y2="40.2" stroke="#151515" stroke-width="1.1" />
<line x1="951.83" y1="43.6" x2="961.03" y2="43.6" stroke="#151515" stroke-width="1.1" />
<line x1="967.25" y1="39.8" x2="967.25" y2="43" stroke="#151515" stroke-width="0.9" />
<line x1="962.65" y1="39.8" x2="971.85" y2="39.8" stroke="#151515" stroke-width="1.1" />
<line x1="962.65" y1="43" x2="971.85" y2="43" stroke="#151515" stroke-width="1.1" />
<line x1="978.07" y1="39.6" x2="978.07" y2="42.8" stroke="#151515" stroke-width="0.9" />
<line x1="973.47" y1="39.6" x2="982.67" y2="39.6" stroke="#151515" stroke-width="1.1" />
<line x1="973.47" y1="42.8" x2="982.67" y2="42.8" stroke="#151515" stroke-width="1.1" />
<line x1="988.89" y1="39.3" x2="988.89" y2="42.5" stroke="#151515" stroke-width="0.9" />
<line x1="984.29" y1="39.3" x2="993.49" y2="39.3" stroke="#151515" stroke-width="1.1" />
<line x1="984.29" y1="42.5" x2="993.49" y2="42.5" stroke="#151515" stroke-width="1.1" />
<line x1="999.71" y1="39.3" x2="999.71" y2="42.5" stroke="#151515" stroke-width="0.9" />
<line x1="995.11" y1="39.3" x2="1004.31" y2="39.3" stroke="#151515" stroke-width="1.1" />
<line x1="995.11" y1="42.5" x2="1004.31" y2="42.5" stroke="#151515" stroke-width="1.1" />
<line x1="1010.54" y1="39.1" x2="1010.54" y2="42.3" stroke="#151515" stroke-width="0.9" />
<line x1="1005.94" y1="39.1" x2="1015.14" y2="39.1" stroke="#151515" stroke-width="1.1" />
<line x1="1005.94" y1="42.3" x2="1015.14" y2="42.3" stroke="#151515" stroke-width="1.1" />
<line x1="891.49" y1="203.6" x2="891.49" y2="260.5" stroke="#151515" stroke-width="0.9" />
<line x1="886.89" y1="203.6" x2="896.09" y2="203.6" stroke="#151515" stroke-width="1.1" />
<line x1="886.89" y1="260.5" x2="896.09" y2="260.5" stroke="#151515" stroke-width="1.1" />
<line x1="902.32" y1="167" x2="902.32" y2="193.5" stroke="#151515" stroke-width="0.9" />
<line x1="897.72" y1="167" x2="906.92" y2="167" stroke="#151515" stroke-width="1.1" />
<line x1="897.72" y1="193.5" x2="906.92" y2="193.5" stroke="#151515" stroke-width="1.1" />
<line x1="913.14" y1="127" x2="913.14" y2="139.5" stroke="#151515" stroke-width="0.9" />
<line x1="908.54" y1="127" x2="917.74" y2="127" stroke="#151515" stroke-width="1.1" />
<line x1="908.54" y1="139.5" x2="917.74" y2="139.5" stroke="#151515" stroke-width="1.1" />
<line x1="923.96" y1="84" x2="923.96" y2="90" stroke="#151515" stroke-width="0.9" />
<line x1="919.36" y1="84" x2="928.56" y2="84" stroke="#151515" stroke-width="1.1" />
<line x1="919.36" y1="90" x2="928.56" y2="90" stroke="#151515" stroke-width="1.1" />
<line x1="934.78" y1="65.2" x2="934.78" y2="70.2" stroke="#151515" stroke-width="0.9" />
<line x1="930.18" y1="65.2" x2="939.38" y2="65.2" stroke="#151515" stroke-width="1.1" />
<line x1="930.18" y1="70.2" x2="939.38" y2="70.2" stroke="#151515" stroke-width="1.1" />
<line x1="945.6" y1="55" x2="945.6" y2="59.4" stroke="#151515" stroke-width="0.9" />
<line x1="941" y1="55" x2="950.2" y2="55" stroke="#151515" stroke-width="1.1" />
<line x1="941" y1="59.4" x2="950.2" y2="59.4" stroke="#151515" stroke-width="1.1" />
<line x1="956.43" y1="48.6" x2="956.43" y2="52.6" stroke="#151515" stroke-width="0.9" />
<line x1="951.83" y1="48.6" x2="961.03" y2="48.6" stroke="#151515" stroke-width="1.1" />
<line x1="951.83" y1="52.6" x2="961.03" y2="52.6" stroke="#151515" stroke-width="1.1" />
<line x1="967.25" y1="42.9" x2="967.25" y2="46.5" stroke="#151515" stroke-width="0.9" />
<line x1="962.65" y1="42.9" x2="971.85" y2="42.9" stroke="#151515" stroke-width="1.1" />
<line x1="962.65" y1="46.5" x2="971.85" y2="46.5" stroke="#151515" stroke-width="1.1" />
<line x1="978.07" y1="41.8" x2="978.07" y2="45.2" stroke="#151515" stroke-width="0.9" />
<line x1="973.47" y1="41.8" x2="982.67" y2="41.8" stroke="#151515" stroke-width="1.1" />
<line x1="973.47" y1="45.2" x2="982.67" y2="45.2" stroke="#151515" stroke-width="1.1" />
<line x1="988.89" y1="41.3" x2="988.89" y2="44.7" stroke="#151515" stroke-width="0.9" />
<line x1="984.29" y1="41.3" x2="993.49" y2="41.3" stroke="#151515" stroke-width="1.1" />
<line x1="984.29" y1="44.7" x2="993.49" y2="44.7" stroke="#151515" stroke-width="1.1" />
<line x1="999.71" y1="41.1" x2="999.71" y2="44.5" stroke="#151515" stroke-width="0.9" />
<line x1="995.11" y1="41.1" x2="1004.31" y2="41.1" stroke="#151515" stroke-width="1.1" />
<line x1="995.11" y1="44.5" x2="1004.31" y2="44.5" stroke="#151515" stroke-width="1.1" />
<line x1="1010.54" y1="40.9" x2="1010.54" y2="44.3" stroke="#151515" stroke-width="0.9" />
<line x1="1005.94" y1="40.9" x2="1015.14" y2="40.9" stroke="#151515" stroke-width="1.1" />
<line x1="1005.94" y1="44.3" x2="1015.14" y2="44.3" stroke="#151515" stroke-width="1.1" />
<line x1="934.78" y1="201.7" x2="934.78" y2="256.3" stroke="#151515" stroke-width="0.9" />
<line x1="930.18" y1="201.7" x2="939.38" y2="201.7" stroke="#151515" stroke-width="1.1" />
<line x1="930.18" y1="256.3" x2="939.38" y2="256.3" stroke="#151515" stroke-width="1.1" />
<line x1="945.6" y1="164.6" x2="945.6" y2="190.5" stroke="#151515" stroke-width="0.9" />
<line x1="941" y1="164.6" x2="950.2" y2="164.6" stroke="#151515" stroke-width="1.1" />
<line x1="941" y1="190.5" x2="950.2" y2="190.5" stroke="#151515" stroke-width="1.1" />
<line x1="956.43" y1="123" x2="956.43" y2="135.7" stroke="#151515" stroke-width="0.9" />
<line x1="951.83" y1="123" x2="961.03" y2="123" stroke="#151515" stroke-width="1.1" />
<line x1="951.83" y1="135.7" x2="961.03" y2="135.7" stroke="#151515" stroke-width="1.1" />
<line x1="967.25" y1="84.3" x2="967.25" y2="90.7" stroke="#151515" stroke-width="0.9" />
<line x1="962.65" y1="84.3" x2="971.85" y2="84.3" stroke="#151515" stroke-width="1.1" />
<line x1="962.65" y1="90.7" x2="971.85" y2="90.7" stroke="#151515" stroke-width="1.1" />
<line x1="978.07" y1="65.6" x2="978.07" y2="70.8" stroke="#151515" stroke-width="0.9" />
<line x1="973.47" y1="65.6" x2="982.67" y2="65.6" stroke="#151515" stroke-width="1.1" />
<line x1="973.47" y1="70.8" x2="982.67" y2="70.8" stroke="#151515" stroke-width="1.1" />
<line x1="988.89" y1="55" x2="988.89" y2="59.4" stroke="#151515" stroke-width="0.9" />
<line x1="984.29" y1="55" x2="993.49" y2="55" stroke="#151515" stroke-width="1.1" />
<line x1="984.29" y1="59.4" x2="993.49" y2="59.4" stroke="#151515" stroke-width="1.1" />
<line x1="999.71" y1="49" x2="999.71" y2="53" stroke="#151515" stroke-width="0.9" />
<line x1="995.11" y1="49" x2="1004.31" y2="49" stroke="#151515" stroke-width="1.1" />
<line x1="995.11" y1="53" x2="1004.31" y2="53" stroke="#151515" stroke-width="1.1" />
<line x1="1010.54" y1="44.4" x2="1010.54" y2="48.2" stroke="#151515" stroke-width="0.9" />
<line x1="1005.94" y1="44.4" x2="1015.14" y2="44.4" stroke="#151515" stroke-width="1.1" />
<line x1="1005.94" y1="48.2" x2="1015.14" y2="48.2" stroke="#151515" stroke-width="1.1" />
<line x1="967.25" y1="200" x2="967.25" y2="253.5" stroke="#151515" stroke-width="0.9" />
<line x1="962.65" y1="200" x2="971.85" y2="200" stroke="#151515" stroke-width="1.1" />
<line x1="962.65" y1="253.5" x2="971.85" y2="253.5" stroke="#151515" stroke-width="1.1" />
<line x1="978.07" y1="163.5" x2="978.07" y2="188.8" stroke="#151515" stroke-width="0.9" />
<line x1="973.47" y1="163.5" x2="982.67" y2="163.5" stroke="#151515" stroke-width="1.1" />
<line x1="973.47" y1="188.8" x2="982.67" y2="188.8" stroke="#151515" stroke-width="1.1" />
<line x1="988.89" y1="122.8" x2="988.89" y2="134.5" stroke="#151515" stroke-width="0.9" />
<line x1="984.29" y1="122.8" x2="993.49" y2="122.8" stroke="#151515" stroke-width="1.1" />
<line x1="984.29" y1="134.5" x2="993.49" y2="134.5" stroke="#151515" stroke-width="1.1" />
<line x1="999.71" y1="84.7" x2="999.71" y2="91.7" stroke="#151515" stroke-width="0.9" />
<line x1="995.11" y1="84.7" x2="1004.31" y2="84.7" stroke="#151515" stroke-width="1.1" />
<line x1="995.11" y1="91.7" x2="1004.31" y2="91.7" stroke="#151515" stroke-width="1.1" />
<line x1="1010.54" y1="64.5" x2="1010.54" y2="70.5" stroke="#151515" stroke-width="0.9" />
<line x1="1005.94" y1="64.5" x2="1015.14" y2="64.5" stroke="#151515" stroke-width="1.1" />
<line x1="1005.94" y1="70.5" x2="1015.14" y2="70.5" stroke="#151515" stroke-width="1.1" />
<polyline points="610.12,282.4 620.94,282.18 631.77,281.96 642.59,282.34 653.41,281.52 664.23,281.29 675.05,281.57 685.88,280.85 696.7,280.63 707.52,280.41 718.34,279.79 729.16,279.97 739.99,279.75 750.81,279.53 761.63,279.31 772.45,279.08 783.27,278.86 794.1,278.64 804.92,278.42 815.74,278.2 826.56,277.98 837.38,278.26 848.21,277.53 859.03,277.31 869.85,277.09 880.67,276.87 891.49,276.64 902.32,276.42 913.14,276.2 923.96,277.18 934.78,276.16 945.6,275.53 956.43,275.81 967.25,275.09 978.07,274.87 988.89,274.64 999.71,274.42 1010.54,274.2" fill="none" stroke="#0c0c0c" stroke-width="1.1" />
<polyline points="610.12,282.4 620.94,282.18 631.77,281.96 642.59,281.74 653.41,281.52 664.23,281.29 675.05,281.07 685.88,280.85 696.7,280.63 707.52,280.41 718.34,280.19 729.16,279.97 739.99,279.42 750.81,278.87 761.63,278.32 772.45,277.76 783.27,277.21 794.1,276.66 804.92,276.11 815.74,275.56 826.56,275.01 837.38,274.46 848.21,273.9 859.03,272.4 869.85,271.8 880.67,271.3 891.49,270.8 902.32,270.4 913.14,270 923.96,269.4 934.78,268.8 945.6,268.2 956.43,267.6 967.25,221.3 978.07,175 988.89,128.6 999.71,88.2 1010.54,67.5" fill="none" stroke="#0c0c0c" stroke-width="1.1" />
<polyline points="610.12,282.4 620.94,282.18 631.77,281.96 642.59,281.74 653.41,281.52 664.23,281.29 675.05,281.07 685.88,280.85 696.7,280.63 707.52,280.41 718.34,280.19 729.16,279.97 739.99,279.42 750.81,278.87 761.63,278.32 772.45,277.76 783.27,277.21 794.1,276.66 804.92,276.11 815.74,275.56 826.56,275.01 837.38,274.46 848.21,273.9 859.03,272.4 869.85,271.8 880.67,271.3 891.49,270.8 902.32,270.4 913.14,270 923.96,269.5 934.78,224 945.6,176.9 956.43,130 967.25,87.5 978.07,68.2 988.89,57.2 999.71,51 1010.54,46.3" fill="none" stroke="#0c0c0c" stroke-width="1.1" />
<polyline points="610.12,282.4 620.94,282.18 631.77,281.96 642.59,281.74 653.41,281.52 664.23,281.29 675.05,281.07 685.88,280.85 696.7,280.63 707.52,280.41 718.34,280.19 729.16,279.97 739.99,279.42 750.81,278.87 761.63,278.32 772.45,277.76 783.27,277.21 794.1,276.66 804.92,276.11 815.74,275.56 826.56,275.01 837.38,274.46 848.21,273.9 859.03,272.4 869.85,271.8 880.67,271 891.49,225.7 902.32,179.4 913.14,133.4 923.96,87 934.78,67.7 945.6,57.2 956.43,50.6 967.25,44.7 978.07,43.5 988.89,43 999.71,42.8 1010.54,42.6" fill="none" stroke="#0c0c0c" stroke-width="1.1" />
<polyline points="610.12,282.4 620.94,282.18 631.77,281.96 642.59,281.74 653.41,281.52 664.23,281.29 675.05,281.07 685.88,280.85 696.7,280.63 707.52,280.41 718.34,280.19 729.16,279.97 739.99,279.42 750.81,278.87 761.63,278.32 772.45,277.76 783.27,277.21 794.1,276.66 804.92,276.11 815.74,275.56 826.56,275.01 837.38,274.46 848.21,272.3 859.03,224.6 869.85,176.9 880.67,131 891.49,87 902.32,70.1 913.14,57.2 923.96,48.7 934.78,44.2 945.6,42.6 956.43,41.9 967.25,41.4 978.07,41.2 988.89,40.9 999.71,40.9 1010.54,40.7" fill="none" stroke="#0c0c0c" stroke-width="1.1" />
<circle cx="859.03" cy="224.6" r="3.6" fill="#0c0c0c" stroke="#0c0c0c" stroke-width="1"/>
<circle cx="869.85" cy="176.9" r="3.6" fill="#0c0c0c" stroke="#0c0c0c" stroke-width="1"/>
<circle cx="880.67" cy="131" r="3.6" fill="#0c0c0c" stroke="#0c0c0c" stroke-width="1"/>
<circle cx="891.49" cy="87" r="3.6" fill="#0c0c0c" stroke="#0c0c0c" stroke-width="1"/>
<circle cx="902.32" cy="70.1" r="3.6" fill="#0c0c0c" stroke="#0c0c0c" stroke-width="1"/>
<circle cx="913.14" cy="57.2" r="3.6" fill="#0c0c0c" stroke="#0c0c0c" stroke-width="1"/>
<circle cx="923.96" cy="48.7" r="3.6" fill="#0c0c0c" stroke="#0c0c0c" stroke-width="1"/>
<circle cx="934.78" cy="44.2" r="3.6" fill="#0c0c0c" stroke="#0c0c0c" stroke-width="1"/>
<circle cx="945.6" cy="42.6" r="3.6" fill="#0c0c0c" stroke="#0c0c0c" stroke-width="1"/>
<circle cx="956.43" cy="41.9" r="3.6" fill="#0c0c0c" stroke="#0c0c0c" stroke-width="1"/>
<circle cx="967.25" cy="41.4" r="3.6" fill="#0c0c0c" stroke="#0c0c0c" stroke-width="1"/>
<circle cx="978.07" cy="41.2" r="3.6" fill="#0c0c0c" stroke="#0c0c0c" stroke-width="1"/>
<circle cx="988.89" cy="40.9" r="3.6" fill="#0c0c0c" stroke="#0c0c0c" stroke-width="1"/>
<circle cx="999.71" cy="40.9" r="3.6" fill="#0c0c0c" stroke="#0c0c0c" stroke-width="1"/>
<circle cx="1010.54" cy="40.7" r="3.6" fill="#0c0c0c" stroke="#0c0c0c" stroke-width="1"/>
<circle cx="880.67" cy="271" r="2.52" fill="#fff" stroke="#0c0c0c" stroke-width="1.1"/>
<circle cx="891.49" cy="225.7" r="3.67" fill="#fff" stroke="#0c0c0c" stroke-width="1.1"/>
<circle cx="902.32" cy="179.4" r="3.67" fill="#fff" stroke="#0c0c0c" stroke-width="1.1"/>
<circle cx="913.14" cy="133.4" r="3.67" fill="#fff" stroke="#0c0c0c" stroke-width="1.1"/>
<circle cx="923.96" cy="87" r="3.67" fill="#fff" stroke="#0c0c0c" stroke-width="1.1"/>
<circle cx="934.78" cy="67.7" r="3.67" fill="#fff" stroke="#0c0c0c" stroke-width="1.1"/>
<circle cx="945.6" cy="57.2" r="3.67" fill="#fff" stroke="#0c0c0c" stroke-width="1.1"/>
<circle cx="956.43" cy="50.6" r="3.67" fill="#fff" stroke="#0c0c0c" stroke-width="1.1"/>
<circle cx="967.25" cy="44.7" r="3.67" fill="#fff" stroke="#0c0c0c" stroke-width="1.1"/>
<circle cx="978.07" cy="43.5" r="3.67" fill="#fff" stroke="#0c0c0c" stroke-width="1.1"/>
<circle cx="988.89" cy="43" r="3.67" fill="#fff" stroke="#0c0c0c" stroke-width="1.1"/>
<circle cx="999.71" cy="42.8" r="3.67" fill="#fff" stroke="#0c0c0c" stroke-width="1.1"/>
<circle cx="1010.54" cy="42.6" r="3.67" fill="#fff" stroke="#0c0c0c" stroke-width="1.1"/>
<polygon points="920.68,267.1 927.24,267.1 923.96,272.7" fill="#0c0c0c" stroke="#0c0c0c" stroke-width="1"/>
<polygon points="930.68,221 938.88,221 934.78,227.8" fill="#0c0c0c" stroke="#0c0c0c" stroke-width="1"/>
<polygon points="941.5,173.9 949.7,173.9 945.6,180.7" fill="#0c0c0c" stroke="#0c0c0c" stroke-width="1"/>
<polygon points="952.33,127 960.53,127 956.43,133.8" fill="#0c0c0c" stroke="#0c0c0c" stroke-width="1"/>
<polygon points="963.15,84.5 971.35,84.5 967.25,91.3" fill="#0c0c0c" stroke="#0c0c0c" stroke-width="1"/>
<polygon points="973.97,65.2 982.17,65.2 978.07,72" fill="#0c0c0c" stroke="#0c0c0c" stroke-width="1"/>
<polygon points="984.79,54.2 992.99,54.2 988.89,61" fill="#0c0c0c" stroke="#0c0c0c" stroke-width="1"/>
<polygon points="995.61,48 1003.81,48 999.71,54.8" fill="#0c0c0c" stroke="#0c0c0c" stroke-width="1"/>
<polygon points="1006.44,43.3 1014.64,43.3 1010.54,50.1" fill="#0c0c0c" stroke="#0c0c0c" stroke-width="1"/>
<polygon points="834.26,276.86 840.5,276.86 837.38,271.26" fill="#fff" stroke="#0c0c0c" stroke-width="1.1"/>
<polygon points="845.09,276.3 851.33,276.3 848.21,270.7" fill="#fff" stroke="#0c0c0c" stroke-width="1.1"/>
<polygon points="855.91,274.8 862.15,274.8 859.03,269.2" fill="#fff" stroke="#0c0c0c" stroke-width="1.1"/>
<polygon points="866.73,274.2 872.97,274.2 869.85,268.6" fill="#fff" stroke="#0c0c0c" stroke-width="1.1"/>
<polygon points="877.55,273.7 883.79,273.7 880.67,268.1" fill="#fff" stroke="#0c0c0c" stroke-width="1.1"/>
<polygon points="888.37,273.2 894.61,273.2 891.49,267.6" fill="#fff" stroke="#0c0c0c" stroke-width="1.1"/>
<polygon points="899.2,272.8 905.44,272.8 902.32,267.2" fill="#fff" stroke="#0c0c0c" stroke-width="1.1"/>
<polygon points="910.02,272.4 916.26,272.4 913.14,266.8" fill="#fff" stroke="#0c0c0c" stroke-width="1.1"/>
<polygon points="920.84,271.8 927.08,271.8 923.96,266.2" fill="#fff" stroke="#0c0c0c" stroke-width="1.1"/>
<polygon points="931.66,271.2 937.9,271.2 934.78,265.6" fill="#fff" stroke="#0c0c0c" stroke-width="1.1"/>
<polygon points="942.48,270.6 948.72,270.6 945.6,265" fill="#fff" stroke="#0c0c0c" stroke-width="1.1"/>
<polygon points="953.31,270 959.55,270 956.43,264.4" fill="#fff" stroke="#0c0c0c" stroke-width="1.1"/>
<polygon points="963.15,224.45 971.34,224.45 967.25,217.35" fill="#fff" stroke="#0c0c0c" stroke-width="1.1"/>
<polygon points="973.97,178.15 982.16,178.15 978.07,171.05" fill="#fff" stroke="#0c0c0c" stroke-width="1.1"/>
<polygon points="984.8,131.75 992.99,131.75 988.89,124.65" fill="#fff" stroke="#0c0c0c" stroke-width="1.1"/>
<polygon points="995.62,91.35 1003.81,91.35 999.71,84.25" fill="#fff" stroke="#0c0c0c" stroke-width="1.1"/>
<polygon points="1006.44,70.65 1014.63,70.65 1010.54,63.55" fill="#fff" stroke="#0c0c0c" stroke-width="1.1"/>
<rect x="606.92" y="279.2" width="6.4" height="6.4" fill="#0c0c0c" stroke="#0c0c0c" stroke-width="1"/>
<rect x="617.74" y="278.98" width="6.4" height="6.4" fill="#0c0c0c" stroke="#0c0c0c" stroke-width="1"/>
<rect x="628.56" y="278.76" width="6.4" height="6.4" fill="#0c0c0c" stroke="#0c0c0c" stroke-width="1"/>
<rect x="639.39" y="279.14" width="6.4" height="6.4" fill="#0c0c0c" stroke="#0c0c0c" stroke-width="1"/>
<rect x="650.21" y="278.31" width="6.4" height="6.4" fill="#0c0c0c" stroke="#0c0c0c" stroke-width="1"/>
<rect x="661.03" y="278.09" width="6.4" height="6.4" fill="#0c0c0c" stroke="#0c0c0c" stroke-width="1"/>
<rect x="671.85" y="278.37" width="6.4" height="6.4" fill="#0c0c0c" stroke="#0c0c0c" stroke-width="1"/>
<rect x="682.67" y="277.65" width="6.4" height="6.4" fill="#0c0c0c" stroke="#0c0c0c" stroke-width="1"/>
<rect x="693.5" y="277.43" width="6.4" height="6.4" fill="#0c0c0c" stroke="#0c0c0c" stroke-width="1"/>
<rect x="704.32" y="277.21" width="6.4" height="6.4" fill="#0c0c0c" stroke="#0c0c0c" stroke-width="1"/>
<rect x="715.14" y="276.59" width="6.4" height="6.4" fill="#0c0c0c" stroke="#0c0c0c" stroke-width="1"/>
<rect x="725.96" y="276.77" width="6.4" height="6.4" fill="#0c0c0c" stroke="#0c0c0c" stroke-width="1"/>
<rect x="736.78" y="276.55" width="6.4" height="6.4" fill="#0c0c0c" stroke="#0c0c0c" stroke-width="1"/>
<rect x="747.61" y="276.33" width="6.4" height="6.4" fill="#0c0c0c" stroke="#0c0c0c" stroke-width="1"/>
<rect x="758.43" y="276.1" width="6.4" height="6.4" fill="#0c0c0c" stroke="#0c0c0c" stroke-width="1"/>
<rect x="769.25" y="275.88" width="6.4" height="6.4" fill="#0c0c0c" stroke="#0c0c0c" stroke-width="1"/>
<rect x="780.07" y="275.66" width="6.4" height="6.4" fill="#0c0c0c" stroke="#0c0c0c" stroke-width="1"/>
<rect x="790.89" y="275.44" width="6.4" height="6.4" fill="#0c0c0c" stroke="#0c0c0c" stroke-width="1"/>
<rect x="801.72" y="275.22" width="6.4" height="6.4" fill="#0c0c0c" stroke="#0c0c0c" stroke-width="1"/>
<rect x="812.54" y="275" width="6.4" height="6.4" fill="#0c0c0c" stroke="#0c0c0c" stroke-width="1"/>
<rect x="823.36" y="274.78" width="6.4" height="6.4" fill="#0c0c0c" stroke="#0c0c0c" stroke-width="1"/>
<rect x="834.18" y="275.05" width="6.4" height="6.4" fill="#0c0c0c" stroke="#0c0c0c" stroke-width="1"/>
<rect x="845" y="274.33" width="6.4" height="6.4" fill="#0c0c0c" stroke="#0c0c0c" stroke-width="1"/>
<rect x="855.83" y="274.11" width="6.4" height="6.4" fill="#0c0c0c" stroke="#0c0c0c" stroke-width="1"/>
<rect x="866.65" y="273.89" width="6.4" height="6.4" fill="#0c0c0c" stroke="#0c0c0c" stroke-width="1"/>
<rect x="877.47" y="273.67" width="6.4" height="6.4" fill="#0c0c0c" stroke="#0c0c0c" stroke-width="1"/>
<rect x="888.29" y="273.44" width="6.4" height="6.4" fill="#0c0c0c" stroke="#0c0c0c" stroke-width="1"/>
<rect x="899.11" y="273.22" width="6.4" height="6.4" fill="#0c0c0c" stroke="#0c0c0c" stroke-width="1"/>
<rect x="909.94" y="273" width="6.4" height="6.4" fill="#0c0c0c" stroke="#0c0c0c" stroke-width="1"/>
<rect x="920.76" y="273.98" width="6.4" height="6.4" fill="#0c0c0c" stroke="#0c0c0c" stroke-width="1"/>
<rect x="931.58" y="272.95" width="6.4" height="6.4" fill="#0c0c0c" stroke="#0c0c0c" stroke-width="1"/>
<rect x="942.4" y="272.33" width="6.4" height="6.4" fill="#0c0c0c" stroke="#0c0c0c" stroke-width="1"/>
<rect x="953.22" y="272.61" width="6.4" height="6.4" fill="#0c0c0c" stroke="#0c0c0c" stroke-width="1"/>
<rect x="964.05" y="271.89" width="6.4" height="6.4" fill="#0c0c0c" stroke="#0c0c0c" stroke-width="1"/>
<rect x="974.87" y="271.67" width="6.4" height="6.4" fill="#0c0c0c" stroke="#0c0c0c" stroke-width="1"/>
<rect x="985.69" y="271.44" width="6.4" height="6.4" fill="#0c0c0c" stroke="#0c0c0c" stroke-width="1"/>
<rect x="996.51" y="271.22" width="6.4" height="6.4" fill="#0c0c0c" stroke="#0c0c0c" stroke-width="1"/>
<rect x="1007.33" y="271" width="6.4" height="6.4" fill="#0c0c0c" stroke="#0c0c0c" stroke-width="1"/>
<circle cx="750.81" cy="277.67" r="2.6" fill="none" stroke="#777" stroke-width="0.7"/>
<circle cx="761.63" cy="277.12" r="2.6" fill="none" stroke="#777" stroke-width="0.7"/>
<circle cx="772.45" cy="276.56" r="2.6" fill="none" stroke="#777" stroke-width="0.7"/>
<circle cx="783.27" cy="276.01" r="2.6" fill="none" stroke="#777" stroke-width="0.7"/>
<circle cx="794.1" cy="275.46" r="2.6" fill="none" stroke="#777" stroke-width="0.7"/>
<circle cx="804.92" cy="274.91" r="2.6" fill="none" stroke="#777" stroke-width="0.7"/>
<circle cx="815.74" cy="274.36" r="2.6" fill="none" stroke="#777" stroke-width="0.7"/>
<circle cx="826.56" cy="273.81" r="2.6" fill="none" stroke="#777" stroke-width="0.7"/>
<circle cx="837.38" cy="273.26" r="2.6" fill="none" stroke="#777" stroke-width="0.7"/>
<circle cx="848.21" cy="272.7" r="2.6" fill="none" stroke="#777" stroke-width="0.7"/>
<circle cx="859.03" cy="272.15" r="2.6" fill="none" stroke="#777" stroke-width="0.7"/>
<circle cx="869.85" cy="271.6" r="2.6" fill="none" stroke="#777" stroke-width="0.7"/>
<circle cx="880.67" cy="271.05" r="2.6" fill="none" stroke="#777" stroke-width="0.7"/>
<circle cx="891.49" cy="270.49" r="2.6" fill="none" stroke="#777" stroke-width="0.7"/>
<circle cx="902.32" cy="269.94" r="2.6" fill="none" stroke="#777" stroke-width="0.7"/>
<circle cx="913.14" cy="269.39" r="2.6" fill="none" stroke="#777" stroke-width="0.7"/>
</g>
<line x1="599.3" y1="225.4" x2="1013" y2="225.4" stroke="#111" stroke-width="1.9" stroke-dasharray="12 4.37" stroke-dashoffset="0.6"/>
<text x="616.3" y="215.6" font-family='"Liberation Sans", Arial, sans-serif' font-size="14.65" text-anchor="start" font-weight="normal" fill="#111" >Threshold signal level (Ct)</text>
<line x1="599.3" y1="18.3" x2="599.3" y2="319.8" stroke="#111" stroke-width="1.45" />
<line x1="598.6" y1="319.1" x2="1013" y2="319.1" stroke="#111" stroke-width="1.45" />
<line x1="599.3" y1="25.6" x2="603.8" y2="25.6" stroke="#111" stroke-width="1.4" />
<line x1="599.3" y1="40.3" x2="603.8" y2="40.3" stroke="#111" stroke-width="1.4" />
<line x1="599.3" y1="59.3" x2="603.8" y2="59.3" stroke="#111" stroke-width="1.4" />
<line x1="599.3" y1="86.2" x2="603.8" y2="86.2" stroke="#111" stroke-width="1.4" />
<line x1="599.3" y1="139.9" x2="603.8" y2="139.9" stroke="#111" stroke-width="1.4" />
<line x1="599.3" y1="147.7" x2="603.8" y2="147.7" stroke="#111" stroke-width="1.4" />
<line x1="599.3" y1="157.5" x2="603.8" y2="157.5" stroke="#111" stroke-width="1.4" />
<line x1="599.3" y1="166.5" x2="603.8" y2="166.5" stroke="#111" stroke-width="1.4" />
<line x1="599.3" y1="179.4" x2="603.8" y2="179.4" stroke="#111" stroke-width="1.4" />
<line x1="599.3" y1="193.7" x2="603.8" y2="193.7" stroke="#111" stroke-width="1.4" />
<line x1="599.3" y1="212.7" x2="603.8" y2="212.7" stroke="#111" stroke-width="1.4" />
<line x1="599.3" y1="238.8" x2="603.8" y2="238.8" stroke="#111" stroke-width="1.4" />
<line x1="599.3" y1="292.5" x2="603.8" y2="292.5" stroke="#111" stroke-width="1.4" />
<line x1="599.3" y1="300.6" x2="603.8" y2="300.6" stroke="#111" stroke-width="1.4" />
<line x1="599.3" y1="309.6" x2="603.8" y2="309.6" stroke="#111" stroke-width="1.4" />
<line x1="593.6" y1="132.5" x2="599.3" y2="132.5" stroke="#111" stroke-width="1.5" />
<line x1="593.6" y1="285.2" x2="599.3" y2="285.2" stroke="#111" stroke-width="1.5" />
<text x="591.2" y="139.8" font-family='"Liberation Sans", Arial, sans-serif' font-size="14.6" text-anchor="end" font-weight="normal" fill="#111" >1</text>
<text x="591" y="290.1" font-family='"Liberation Sans", Arial, sans-serif' font-size="14.6" text-anchor="end" font-weight="normal" fill="#111" >0</text>
<line x1="599.3" y1="319.1" x2="599.3" y2="325.3" stroke="#111" stroke-width="1.4" />
<line x1="620.94" y1="315.7" x2="620.94" y2="319.1" stroke="#111" stroke-width="2.0" />
<line x1="642.59" y1="315.7" x2="642.59" y2="319.1" stroke="#111" stroke-width="2.0" />
<line x1="664.23" y1="315.7" x2="664.23" y2="319.1" stroke="#111" stroke-width="2.0" />
<line x1="685.88" y1="315.7" x2="685.88" y2="319.1" stroke="#111" stroke-width="2.0" />
<line x1="707.52" y1="319.1" x2="707.52" y2="325.3" stroke="#111" stroke-width="1.4" />
<line x1="729.16" y1="315.7" x2="729.16" y2="319.1" stroke="#111" stroke-width="2.0" />
<line x1="750.81" y1="315.7" x2="750.81" y2="319.1" stroke="#111" stroke-width="2.0" />
<line x1="772.45" y1="315.7" x2="772.45" y2="319.1" stroke="#111" stroke-width="2.0" />
<line x1="794.1" y1="315.7" x2="794.1" y2="319.1" stroke="#111" stroke-width="2.0" />
<line x1="815.74" y1="319.1" x2="815.74" y2="325.3" stroke="#111" stroke-width="1.4" />
<line x1="837.38" y1="315.7" x2="837.38" y2="319.1" stroke="#111" stroke-width="2.0" />
<line x1="859.03" y1="315.7" x2="859.03" y2="319.1" stroke="#111" stroke-width="2.0" />
<line x1="880.67" y1="315.7" x2="880.67" y2="319.1" stroke="#111" stroke-width="2.0" />
<line x1="902.32" y1="315.7" x2="902.32" y2="319.1" stroke="#111" stroke-width="2.0" />
<line x1="923.96" y1="319.1" x2="923.96" y2="325.3" stroke="#111" stroke-width="1.4" />
<line x1="945.6" y1="315.7" x2="945.6" y2="319.1" stroke="#111" stroke-width="2.0" />
<line x1="967.25" y1="315.7" x2="967.25" y2="319.1" stroke="#111" stroke-width="2.0" />
<line x1="988.89" y1="315.7" x2="988.89" y2="319.1" stroke="#111" stroke-width="2.0" />
<line x1="1010.54" y1="315.7" x2="1010.54" y2="319.1" stroke="#111" stroke-width="2.0" />
<text x="599.3" y="345.9" font-family='"Liberation Sans", Arial, sans-serif' font-size="15.2" text-anchor="middle" font-weight="normal" fill="#111" >0</text>
<text x="707.52" y="345.9" font-family='"Liberation Sans", Arial, sans-serif' font-size="15.2" text-anchor="middle" font-weight="normal" fill="#111" >10</text>
<text x="815.74" y="345.9" font-family='"Liberation Sans", Arial, sans-serif' font-size="15.2" text-anchor="middle" font-weight="normal" fill="#111" >20</text>
<text x="923.96" y="345.9" font-family='"Liberation Sans", Arial, sans-serif' font-size="15.2" text-anchor="middle" font-weight="normal" fill="#111" >30</text>
<text x="817.3" y="369" font-family='"Liberation Sans", Arial, sans-serif' font-size="17" text-anchor="middle" font-weight="normal" fill="#111" >PCR Cycle Number</text>
<text transform="translate(572.6,293.1) rotate(-90)" font-family='"Liberation Sans", Arial, sans-serif' font-size="17.25" fill="#111">Log<tspan font-size="10.3" dy="5">10</tspan><tspan dy="-5">PMT Photocurrent (Log</tspan><tspan font-size="10.3" dy="5">10</tspan><tspan dy="-5">I</tspan><tspan dy="3">p</tspan><tspan dy="-3">)</tspan></text>
<text x="615.3" y="47.6" font-family='"Liberation Serif", "Times New Roman", serif' font-size="24.4" text-anchor="start" font-weight="bold" fill="#111" >(b)</text>
<line x1="668.2" y1="69.1" x2="701.1" y2="69.1" stroke="#0c0c0c" stroke-width="1.1" />
<circle cx="684.8" cy="69.1" r="3.67" fill="#0c0c0c" stroke="#0c0c0c" stroke-width="1.1"/>
<text x="709.6" y="74.1" font-family='"Liberation Sans", Arial, sans-serif' font-size="14.6" text-anchor="start" font-weight="normal" fill="#111" >B-1</text>
<line x1="668.2" y1="87.47" x2="701.1" y2="87.47" stroke="#0c0c0c" stroke-width="1.1" />
<circle cx="684.8" cy="87.47" r="3.67" fill="#fff" stroke="#0c0c0c" stroke-width="1.1"/>
<text x="709.6" y="92.47" font-family='"Liberation Sans", Arial, sans-serif' font-size="14.6" text-anchor="start" font-weight="normal" fill="#111" >B-2</text>
<line x1="668.2" y1="105.84" x2="701.1" y2="105.84" stroke="#0c0c0c" stroke-width="1.1" />
<polygon points="680.62,102.78 688.98,102.78 684.8,109.7" fill="#0c0c0c" stroke="#0c0c0c" stroke-width="1.1"/>
<text x="709.6" y="110.84" font-family='"Liberation Sans", Arial, sans-serif' font-size="14.6" text-anchor="start" font-weight="normal" fill="#111" >B-3</text>
<line x1="668.2" y1="124.21" x2="701.1" y2="124.21" stroke="#0c0c0c" stroke-width="1.1" />
<polygon points="680.82,127.27 688.78,127.27 684.8,120.35" fill="#fff" stroke="#0c0c0c" stroke-width="1.1"/>
<text x="709.6" y="129.21" font-family='"Liberation Sans", Arial, sans-serif' font-size="14.6" text-anchor="start" font-weight="normal" fill="#111" >B-4</text>
<line x1="668.2" y1="142.58" x2="701.1" y2="142.58" stroke="#0c0c0c" stroke-width="1.1" />
<rect x="681.43" y="139.21" width="6.73" height="6.73" fill="#0c0c0c" stroke="#0c0c0c" stroke-width="1.1"/>
<text x="709.6" y="147.58" font-family='"Liberation Sans", Arial, sans-serif' font-size="14.6" text-anchor="start" font-weight="normal" fill="#111" >B-5</text>
</g>
<g id="panelC">
<line x1="309.6" y1="386.88" x2="309.6" y2="748.5" stroke="#111" stroke-width="1.5" />
<line x1="308.9" y1="747.8" x2="803.9" y2="747.8" stroke="#111" stroke-width="1.5" />
<line x1="303" y1="747.8" x2="309.6" y2="747.8" stroke="#111" stroke-width="1.8" />
<text x="295.8" y="753.8" font-family='"Liberation Sans", Arial, sans-serif' font-size="17" text-anchor="end" font-weight="normal" fill="#111" >22</text>
<line x1="309.6" y1="737.51" x2="315" y2="737.51" stroke="#111" stroke-width="1.4" />
<line x1="309.6" y1="727.22" x2="315" y2="727.22" stroke="#111" stroke-width="1.4" />
<line x1="309.6" y1="716.92" x2="315" y2="716.92" stroke="#111" stroke-width="1.4" />
<line x1="309.6" y1="706.63" x2="315" y2="706.63" stroke="#111" stroke-width="1.4" />
<line x1="303" y1="696.34" x2="309.6" y2="696.34" stroke="#111" stroke-width="1.8" />
<text x="295.8" y="702.34" font-family='"Liberation Sans", Arial, sans-serif' font-size="17" text-anchor="end" font-weight="normal" fill="#111" >24</text>
<line x1="309.6" y1="686.05" x2="315" y2="686.05" stroke="#111" stroke-width="1.4" />
<line x1="309.6" y1="675.76" x2="315" y2="675.76" stroke="#111" stroke-width="1.4" />
<line x1="309.6" y1="665.46" x2="315" y2="665.46" stroke="#111" stroke-width="1.4" />
<line x1="309.6" y1="655.17" x2="315" y2="655.17" stroke="#111" stroke-width="1.4" />
<line x1="303" y1="644.88" x2="309.6" y2="644.88" stroke="#111" stroke-width="1.8" />
<text x="295.8" y="650.88" font-family='"Liberation Sans", Arial, sans-serif' font-size="17" text-anchor="end" font-weight="normal" fill="#111" >26</text>
<line x1="309.6" y1="634.59" x2="315" y2="634.59" stroke="#111" stroke-width="1.4" />
<line x1="309.6" y1="624.3" x2="315" y2="624.3" stroke="#111" stroke-width="1.4" />
<line x1="309.6" y1="614" x2="315" y2="614" stroke="#111" stroke-width="1.4" />
<line x1="309.6" y1="603.71" x2="315" y2="603.71" stroke="#111" stroke-width="1.4" />
<line x1="303" y1="593.42" x2="309.6" y2="593.42" stroke="#111" stroke-width="1.8" />
<text x="295.8" y="599.42" font-family='"Liberation Sans", Arial, sans-serif' font-size="17" text-anchor="end" font-weight="normal" fill="#111" >28</text>
<line x1="309.6" y1="583.13" x2="315" y2="583.13" stroke="#111" stroke-width="1.4" />
<line x1="309.6" y1="572.84" x2="315" y2="572.84" stroke="#111" stroke-width="1.4" />
<line x1="309.6" y1="562.54" x2="315" y2="562.54" stroke="#111" stroke-width="1.4" />
<line x1="309.6" y1="552.25" x2="315" y2="552.25" stroke="#111" stroke-width="1.4" />
<line x1="303" y1="541.96" x2="309.6" y2="541.96" stroke="#111" stroke-width="1.8" />
<text x="295.8" y="547.96" font-family='"Liberation Sans", Arial, sans-serif' font-size="17" text-anchor="end" font-weight="normal" fill="#111" >30</text>
<line x1="309.6" y1="531.67" x2="315" y2="531.67" stroke="#111" stroke-width="1.4" />
<line x1="309.6" y1="521.38" x2="315" y2="521.38" stroke="#111" stroke-width="1.4" />
<line x1="309.6" y1="511.08" x2="315" y2="511.08" stroke="#111" stroke-width="1.4" />
<line x1="309.6" y1="500.79" x2="315" y2="500.79" stroke="#111" stroke-width="1.4" />
<line x1="303" y1="490.5" x2="309.6" y2="490.5" stroke="#111" stroke-width="1.8" />
<text x="295.8" y="496.5" font-family='"Liberation Sans", Arial, sans-serif' font-size="17" text-anchor="end" font-weight="normal" fill="#111" >32</text>
<line x1="309.6" y1="480.21" x2="315" y2="480.21" stroke="#111" stroke-width="1.4" />
<line x1="309.6" y1="469.92" x2="315" y2="469.92" stroke="#111" stroke-width="1.4" />
<line x1="309.6" y1="459.62" x2="315" y2="459.62" stroke="#111" stroke-width="1.4" />
<line x1="309.6" y1="449.33" x2="315" y2="449.33" stroke="#111" stroke-width="1.4" />
<line x1="303" y1="439.04" x2="309.6" y2="439.04" stroke="#111" stroke-width="1.8" />
<text x="295.8" y="445.04" font-family='"Liberation Sans", Arial, sans-serif' font-size="17" text-anchor="end" font-weight="normal" fill="#111" >34</text>
<line x1="309.6" y1="428.75" x2="315" y2="428.75" stroke="#111" stroke-width="1.4" />
<line x1="309.6" y1="418.46" x2="315" y2="418.46" stroke="#111" stroke-width="1.4" />
<line x1="309.6" y1="408.16" x2="315" y2="408.16" stroke="#111" stroke-width="1.4" />
<line x1="309.6" y1="397.87" x2="315" y2="397.87" stroke="#111" stroke-width="1.4" />
<line x1="303" y1="387.58" x2="309.6" y2="387.58" stroke="#111" stroke-width="1.8" />
<text x="295.8" y="393.58" font-family='"Liberation Sans", Arial, sans-serif' font-size="17" text-anchor="end" font-weight="normal" fill="#111" >36</text>
<line x1="309.6" y1="741.2" x2="309.6" y2="754.4" stroke="#111" stroke-width="1.7" />
<text x="309.6" y="775.4" font-family='"Liberation Sans", Arial, sans-serif' font-size="17" text-anchor="middle" font-weight="normal" fill="#111" >0</text>
<line x1="346.75" y1="743.2" x2="346.75" y2="747.8" stroke="#111" stroke-width="1.3" />
<line x1="368.48" y1="743.2" x2="368.48" y2="747.8" stroke="#111" stroke-width="1.3" />
<line x1="383.89" y1="743.2" x2="383.89" y2="747.8" stroke="#111" stroke-width="1.3" />
<line x1="395.85" y1="743.2" x2="395.85" y2="747.8" stroke="#111" stroke-width="1.3" />
<line x1="405.62" y1="743.2" x2="405.62" y2="747.8" stroke="#111" stroke-width="1.3" />
<line x1="413.89" y1="743.2" x2="413.89" y2="747.8" stroke="#111" stroke-width="1.3" />
<line x1="421.04" y1="743.2" x2="421.04" y2="747.8" stroke="#111" stroke-width="1.3" />
<line x1="427.35" y1="743.2" x2="427.35" y2="747.8" stroke="#111" stroke-width="1.3" />
<line x1="433" y1="741.2" x2="433" y2="754.4" stroke="#111" stroke-width="1.7" />
<text x="433" y="775.4" font-family='"Liberation Sans", Arial, sans-serif' font-size="17" text-anchor="middle" font-weight="normal" fill="#111" >1</text>
<line x1="470.15" y1="743.2" x2="470.15" y2="747.8" stroke="#111" stroke-width="1.3" />
<line x1="491.88" y1="743.2" x2="491.88" y2="747.8" stroke="#111" stroke-width="1.3" />
<line x1="507.29" y1="743.2" x2="507.29" y2="747.8" stroke="#111" stroke-width="1.3" />
<line x1="519.25" y1="743.2" x2="519.25" y2="747.8" stroke="#111" stroke-width="1.3" />
<line x1="529.02" y1="743.2" x2="529.02" y2="747.8" stroke="#111" stroke-width="1.3" />
<line x1="537.29" y1="743.2" x2="537.29" y2="747.8" stroke="#111" stroke-width="1.3" />
<line x1="544.44" y1="743.2" x2="544.44" y2="747.8" stroke="#111" stroke-width="1.3" />
<line x1="550.75" y1="743.2" x2="550.75" y2="747.8" stroke="#111" stroke-width="1.3" />
<line x1="556.4" y1="741.2" x2="556.4" y2="754.4" stroke="#111" stroke-width="1.7" />
<text x="556.4" y="775.4" font-family='"Liberation Sans", Arial, sans-serif' font-size="17" text-anchor="middle" font-weight="normal" fill="#111" >2</text>
<line x1="593.55" y1="743.2" x2="593.55" y2="747.8" stroke="#111" stroke-width="1.3" />
<line x1="615.28" y1="743.2" x2="615.28" y2="747.8" stroke="#111" stroke-width="1.3" />
<line x1="630.69" y1="743.2" x2="630.69" y2="747.8" stroke="#111" stroke-width="1.3" />
<line x1="642.65" y1="743.2" x2="642.65" y2="747.8" stroke="#111" stroke-width="1.3" />
<line x1="652.42" y1="743.2" x2="652.42" y2="747.8" stroke="#111" stroke-width="1.3" />
<line x1="660.69" y1="743.2" x2="660.69" y2="747.8" stroke="#111" stroke-width="1.3" />
<line x1="667.84" y1="743.2" x2="667.84" y2="747.8" stroke="#111" stroke-width="1.3" />
<line x1="674.15" y1="743.2" x2="674.15" y2="747.8" stroke="#111" stroke-width="1.3" />
<line x1="679.8" y1="741.2" x2="679.8" y2="754.4" stroke="#111" stroke-width="1.7" />
<text x="679.8" y="775.4" font-family='"Liberation Sans", Arial, sans-serif' font-size="17" text-anchor="middle" font-weight="normal" fill="#111" >3</text>
<line x1="716.95" y1="743.2" x2="716.95" y2="747.8" stroke="#111" stroke-width="1.3" />
<line x1="738.68" y1="743.2" x2="738.68" y2="747.8" stroke="#111" stroke-width="1.3" />
<line x1="754.09" y1="743.2" x2="754.09" y2="747.8" stroke="#111" stroke-width="1.3" />
<line x1="766.05" y1="743.2" x2="766.05" y2="747.8" stroke="#111" stroke-width="1.3" />
<line x1="775.82" y1="743.2" x2="775.82" y2="747.8" stroke="#111" stroke-width="1.3" />
<line x1="784.09" y1="743.2" x2="784.09" y2="747.8" stroke="#111" stroke-width="1.3" />
<line x1="791.24" y1="743.2" x2="791.24" y2="747.8" stroke="#111" stroke-width="1.3" />
<line x1="797.55" y1="743.2" x2="797.55" y2="747.8" stroke="#111" stroke-width="1.3" />
<line x1="803.2" y1="741.2" x2="803.2" y2="754.4" stroke="#111" stroke-width="1.7" />
<text x="803.2" y="775.4" font-family='"Liberation Sans", Arial, sans-serif' font-size="17" text-anchor="middle" font-weight="normal" fill="#111" >4</text>
<text x="458.4" y="794.5" font-family='"Liberation Sans", Arial, sans-serif' font-size="19.6" fill="#111">Log<tspan font-size="18.2" dy="5">10</tspan><tspan dy="-5"> (RNA copy count)</tspan></text>
<text transform="translate(263,661.6) rotate(-90)" font-family='"Liberation Sans", Arial, sans-serif' font-size="19.7" fill="#111">Threshold Cycle (Ct)</text>
<text x="327.3" y="405.7" font-family='"Liberation Serif", "Times New Roman", serif' font-size="24" text-anchor="start" font-weight="bold" fill="#111" >(c)</text>
<line x1="367.21" y1="464.77" x2="737.41" y2="709.2" stroke="#111" stroke-width="1.2" />
<line x1="398.77" y1="449.33" x2="768.97" y2="696.34" stroke="#111" stroke-width="1.2" />
<line x1="367.21" y1="426.17" x2="367.21" y2="503.36" stroke="#222" stroke-width="1.0" />
<line x1="361.71" y1="426.17" x2="372.71" y2="426.17" stroke="#222" stroke-width="1.2" />
<line x1="361.71" y1="503.36" x2="372.71" y2="503.36" stroke="#222" stroke-width="1.2" />
<line x1="490.61" y1="516.23" x2="490.61" y2="567.69" stroke="#222" stroke-width="1.0" />
<line x1="485.11" y1="516.23" x2="496.11" y2="516.23" stroke="#222" stroke-width="1.2" />
<line x1="485.11" y1="567.69" x2="496.11" y2="567.69" stroke="#222" stroke-width="1.2" />
<line x1="614.01" y1="611.43" x2="614.01" y2="637.16" stroke="#222" stroke-width="1.0" />
<line x1="608.51" y1="611.43" x2="619.51" y2="611.43" stroke="#222" stroke-width="1.2" />
<line x1="608.51" y1="637.16" x2="619.51" y2="637.16" stroke="#222" stroke-width="1.2" />
<line x1="737.41" y1="696.34" x2="737.41" y2="722.07" stroke="#222" stroke-width="1.0" />
<line x1="731.91" y1="696.34" x2="742.91" y2="696.34" stroke="#222" stroke-width="1.2" />
<line x1="731.91" y1="722.07" x2="742.91" y2="722.07" stroke="#222" stroke-width="1.2" />
<circle cx="367.21" cy="464.77" r="4.1" fill="#0a0a0a" stroke="#0a0a0a" stroke-width="1.1"/>
<circle cx="490.61" cy="541.96" r="4.1" fill="#0a0a0a" stroke="#0a0a0a" stroke-width="1.1"/>
<circle cx="614.01" cy="624.3" r="4.1" fill="#0a0a0a" stroke="#0a0a0a" stroke-width="1.1"/>
<circle cx="737.41" cy="709.2" r="4.1" fill="#0a0a0a" stroke="#0a0a0a" stroke-width="1.1"/>
<line x1="398.77" y1="436.47" x2="398.77" y2="462.2" stroke="#222" stroke-width="1.0" />
<line x1="393.27" y1="436.47" x2="404.27" y2="436.47" stroke="#222" stroke-width="1.2" />
<line x1="393.27" y1="462.2" x2="404.27" y2="462.2" stroke="#222" stroke-width="1.2" />
<line x1="522.17" y1="516.23" x2="522.17" y2="541.96" stroke="#222" stroke-width="1.0" />
<line x1="516.67" y1="516.23" x2="527.67" y2="516.23" stroke="#222" stroke-width="1.2" />
<line x1="516.67" y1="541.96" x2="527.67" y2="541.96" stroke="#222" stroke-width="1.2" />
<line x1="645.57" y1="601.14" x2="645.57" y2="626.87" stroke="#222" stroke-width="1.0" />
<line x1="640.07" y1="601.14" x2="651.07" y2="601.14" stroke="#222" stroke-width="1.2" />
<line x1="640.07" y1="626.87" x2="651.07" y2="626.87" stroke="#222" stroke-width="1.2" />
<line x1="768.97" y1="683.47" x2="768.97" y2="709.2" stroke="#222" stroke-width="1.0" />
<line x1="763.47" y1="683.47" x2="774.47" y2="683.47" stroke="#222" stroke-width="1.2" />
<line x1="763.47" y1="709.2" x2="774.47" y2="709.2" stroke="#222" stroke-width="1.2" />
<circle cx="398.77" cy="449.33" r="4.1" fill="#fff" stroke="#0a0a0a" stroke-width="1.1"/>
<circle cx="522.17" cy="529.09" r="4.1" fill="#fff" stroke="#0a0a0a" stroke-width="1.1"/>
<circle cx="645.57" cy="614" r="4.1" fill="#fff" stroke="#0a0a0a" stroke-width="1.1"/>
<circle cx="768.97" cy="696.34" r="4.1" fill="#fff" stroke="#0a0a0a" stroke-width="1.1"/>
<line x1="545.1" y1="470" x2="576.4" y2="470" stroke="#111" stroke-width="1.1" />
<circle cx="560.5" cy="470" r="4.1" fill="#0a0a0a" stroke="#0a0a0a" stroke-width="1.1"/>
<text x="584.6" y="475" font-family='"Liberation Sans", Arial, sans-serif' font-size="14.05" text-anchor="start" font-weight="normal" fill="#111" >In-vitro Influenza A RNA</text>
<line x1="545.1" y1="487.4" x2="576.4" y2="487.4" stroke="#111" stroke-width="1.1" />
<circle cx="560.5" cy="487.4" r="4.1" fill="#fff" stroke="#0a0a0a" stroke-width="1.1"/>
<text x="584.6" y="492.4" font-family='"Liberation Sans", Arial, sans-serif' font-size="14.05" text-anchor="start" font-weight="normal" fill="#111" >In-vitro Influenza B RNA</text>
</g>
</svg>
<div class="col" style="left:17.2px">
<div class="b" style="top:477.0px"></div>
<div class="s" style="left:30.4px;top:462.46px;word-spacing:3px">Serial dilution (x10)</div>
<div class="s" style="left:30.4px;top:491.66px">of spiked</div>
<div class="s" style="top:491.66px;left:124.6px">Influenza</div>
<div class="s" style="left:30.4px;top:520.66px">A RNA;</div>
<div class="b" style="top:566.0px"></div>
<div class="l" style="left:30.4px;top:550.45px">A-1: 2930 copies</div>
<div class="b" style="top:598.5px"></div>
<div class="l" style="left:30.4px;top:582.95px">A-2: 293 copies</div>
<div class="b" style="top:631.3px"></div>
<div class="l" style="left:30.4px;top:615.75px">A-3: 29 copies</div>
<div class="b" style="top:664.1px"></div>
<div class="l" style="left:30.4px;top:648.55px">A-4: ~ 3 copies</div>
<div class="b" style="top:696.9px"></div>
<div class="l" style="left:30.4px;top:681.35px">A-5: no copies</div>
</div>
<div class="col" style="left:789.6px">
<div class="b" style="top:477.0px"></div>
<div class="s" style="left:29.0px;top:462.46px;word-spacing:3px">Serial dilution (x10)</div>
<div class="s" style="left:29.0px;top:491.66px">of spiked</div>
<div class="s" style="top:491.66px;left:123.2px">Influenza</div>
<div class="s" style="left:29.0px;top:520.66px">B RNA;</div>
<div class="b" style="top:566.0px"></div>
<div class="l" style="left:29.0px;top:550.45px">B-1: 5280 copies</div>
<div class="b" style="top:598.5px"></div>
<div class="l" style="left:29.0px;top:582.95px">B-2: 528 copies</div>
<div class="b" style="top:631.3px"></div>
<div class="l" style="left:29.0px;top:615.75px">B-3: 53 copies</div>
<div class="b" style="top:664.1px"></div>
<div class="l" style="left:29.0px;top:648.55px">B-4: ~ 5 copies</div>
<div class="b" style="top:696.9px"></div>
<div class="l" style="left:29.0px;top:681.35px">B-5: no copies</div>
</div>
</body>
</html>
